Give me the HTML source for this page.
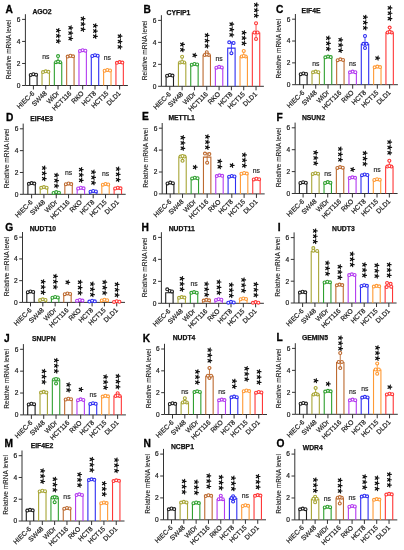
<!DOCTYPE html>
<html><head><meta charset="utf-8"><style>
html,body{margin:0;padding:0;background:#fff;}
svg{display:block;will-change:transform;}
text{font-family:'Liberation Sans', sans-serif;}
.lt{font-size:10.2px;font-weight:bold;fill:#000;stroke:#000;stroke-width:0.3px;}
.tt{font-size:6.8px;font-weight:bold;fill:#111;stroke:#111;stroke-width:0.25px;}
.tl{font-size:6.6px;fill:#1a1a1a;stroke:#1a1a1a;stroke-width:0.2px;text-anchor:end;}
.yl{font-size:6.55px;fill:#222;stroke:#222;stroke-width:0.12px;text-anchor:middle;}
.xl{font-size:6.7px;fill:#1a1a1a;stroke:#1a1a1a;stroke-width:0.2px;text-anchor:end;}
.ns{font-size:6.8px;fill:#222;stroke:#222;stroke-width:0.15px;text-anchor:middle;}
.ax{fill:none;stroke:#333;stroke-width:1;}
.br{fill:none;stroke-width:1.1;}
.eb{fill:none;stroke-width:0.9;}
.dt{fill:#fff;stroke-width:1.1;}
.st{fill:none;stroke:#111;stroke-width:1.2;stroke-linecap:round;}
</style></head><body>
<svg width="404" height="550" viewBox="0 0 404 550">
<rect width="404" height="550" fill="#fff"/>
<text x="5.6" y="12.7" class="lt">A</text>
<text x="32.4" y="13.6" class="tt">AGO2</text>
<path d="M25.4,14.2V85.5H127.9" class="ax"/>
<text x="20.5" y="87.8" class="tl">0</text>
<text x="20.5" y="65.77" class="tl">2</text>
<text x="20.5" y="43.73" class="tl">4</text>
<text x="20.5" y="21.7" class="tl">6</text>
<path d="M22.1,85.5H25.4M22.1,63.47H25.4M22.1,41.43H25.4M22.1,19.4H25.4M33.4,85.5V89.5M45.72,85.5V89.5M58.04,85.5V89.5M70.36,85.5V89.5M82.68,85.5V89.5M95,85.5V89.5M107.32,85.5V89.5M119.64,85.5V89.5" class="ax"/>
<text transform="translate(11.4,49.5) rotate(-90)" class="yl">Relative mRNA level</text>
<text transform="translate(35,93.8) rotate(-45)" class="xl">HIEC-6</text>
<text transform="translate(47.32,93.8) rotate(-45)" class="xl">SW48</text>
<text transform="translate(59.64,93.8) rotate(-45)" class="xl">WiDr</text>
<text transform="translate(71.96,93.8) rotate(-45)" class="xl">HCT116</text>
<text transform="translate(84.28,93.8) rotate(-45)" class="xl">RKO</text>
<text transform="translate(96.6,93.8) rotate(-45)" class="xl">HCT8</text>
<text transform="translate(108.92,93.8) rotate(-45)" class="xl">HCT15</text>
<text transform="translate(121.24,93.8) rotate(-45)" class="xl">DLD1</text>
<path d="M29.7,85.5V75.25H37.1V85.5" stroke="#1e1e1e" class="br"/>
<circle cx="30.7" cy="74.92" r="1.45" stroke="#1e1e1e" class="dt"/>
<circle cx="33.4" cy="74.15" r="1.45" stroke="#1e1e1e" class="dt"/>
<circle cx="36.1" cy="74.7" r="1.45" stroke="#1e1e1e" class="dt"/>
<path d="M42.02,85.5V72.39H49.42V85.5" stroke="#a8a636" class="br"/>
<circle cx="43.02" cy="72.06" r="1.45" stroke="#a8a636" class="dt"/>
<circle cx="45.72" cy="71.29" r="1.45" stroke="#a8a636" class="dt"/>
<circle cx="48.42" cy="71.84" r="1.45" stroke="#a8a636" class="dt"/>
<text x="45.72" y="58.6" class="ns">ns</text>
<path d="M54.34,85.5V62.48H61.74V85.5" stroke="#2fa02f" class="br"/>
<path d="M58.04,62.48V56.09M56.24,56.09H59.84" stroke="#2fa02f" class="eb"/>
<circle cx="58.04" cy="56.09" r="1.45" stroke="#2fa02f" class="dt"/>
<circle cx="56.04" cy="62.14" r="1.45" stroke="#2fa02f" class="dt"/>
<circle cx="60.04" cy="62.14" r="1.45" stroke="#2fa02f" class="dt"/>
<circle cx="58.04" cy="61.59" r="1.45" stroke="#2fa02f" class="dt"/>
<path transform="translate(58.24,41.2)" d="M0,0L2.05,-0M0,0L0.63,-1.95M0,0L-1.66,-1.2M0,0L-1.66,1.2M0,0L0.63,1.95" class="st"/>
<path transform="translate(58.24,35.85)" d="M0,0L2.05,-0M0,0L0.63,-1.95M0,0L-1.66,-1.2M0,0L-1.66,1.2M0,0L0.63,1.95" class="st"/>
<path transform="translate(58.24,30.5)" d="M0,0L2.05,-0M0,0L0.63,-1.95M0,0L-1.66,-1.2M0,0L-1.66,1.2M0,0L0.63,1.95" class="st"/>
<path d="M66.66,85.5V56.86H74.06V85.5" stroke="#bd6a30" class="br"/>
<circle cx="67.66" cy="56.53" r="1.45" stroke="#bd6a30" class="dt"/>
<circle cx="70.36" cy="55.75" r="1.45" stroke="#bd6a30" class="dt"/>
<circle cx="73.06" cy="56.31" r="1.45" stroke="#bd6a30" class="dt"/>
<path transform="translate(70.56,38.5)" d="M0,0L2.05,-0M0,0L0.63,-1.95M0,0L-1.66,-1.2M0,0L-1.66,1.2M0,0L0.63,1.95" class="st"/>
<path transform="translate(70.56,33.15)" d="M0,0L2.05,-0M0,0L0.63,-1.95M0,0L-1.66,-1.2M0,0L-1.66,1.2M0,0L0.63,1.95" class="st"/>
<path transform="translate(70.56,27.8)" d="M0,0L2.05,-0M0,0L0.63,-1.95M0,0L-1.66,-1.2M0,0L-1.66,1.2M0,0L0.63,1.95" class="st"/>
<path d="M78.98,85.5V51.24H86.38V85.5" stroke="#b43cf0" class="br"/>
<circle cx="79.98" cy="50.91" r="1.45" stroke="#b43cf0" class="dt"/>
<circle cx="82.68" cy="50.14" r="1.45" stroke="#b43cf0" class="dt"/>
<circle cx="85.38" cy="50.69" r="1.45" stroke="#b43cf0" class="dt"/>
<path transform="translate(82.88,29.4)" d="M0,0L2.05,-0M0,0L0.63,-1.95M0,0L-1.66,-1.2M0,0L-1.66,1.2M0,0L0.63,1.95" class="st"/>
<path transform="translate(82.88,24.05)" d="M0,0L2.05,-0M0,0L0.63,-1.95M0,0L-1.66,-1.2M0,0L-1.66,1.2M0,0L0.63,1.95" class="st"/>
<path transform="translate(82.88,18.7)" d="M0,0L2.05,-0M0,0L0.63,-1.95M0,0L-1.66,-1.2M0,0L-1.66,1.2M0,0L0.63,1.95" class="st"/>
<path d="M91.3,85.5V56.31H98.7V85.5" stroke="#2f2ff2" class="br"/>
<circle cx="92.3" cy="55.98" r="1.45" stroke="#2f2ff2" class="dt"/>
<circle cx="95" cy="55.2" r="1.45" stroke="#2f2ff2" class="dt"/>
<circle cx="97.7" cy="55.75" r="1.45" stroke="#2f2ff2" class="dt"/>
<path transform="translate(95.2,36.4)" d="M0,0L2.05,-0M0,0L0.63,-1.95M0,0L-1.66,-1.2M0,0L-1.66,1.2M0,0L0.63,1.95" class="st"/>
<path transform="translate(95.2,31.05)" d="M0,0L2.05,-0M0,0L0.63,-1.95M0,0L-1.66,-1.2M0,0L-1.66,1.2M0,0L0.63,1.95" class="st"/>
<path transform="translate(95.2,25.7)" d="M0,0L2.05,-0M0,0L0.63,-1.95M0,0L-1.66,-1.2M0,0L-1.66,1.2M0,0L0.63,1.95" class="st"/>
<path d="M103.62,85.5V71.07H111.02V85.5" stroke="#ff9a35" class="br"/>
<circle cx="104.62" cy="70.74" r="1.45" stroke="#ff9a35" class="dt"/>
<circle cx="107.32" cy="69.97" r="1.45" stroke="#ff9a35" class="dt"/>
<circle cx="110.02" cy="70.52" r="1.45" stroke="#ff9a35" class="dt"/>
<text x="107.32" y="59.5" class="ns">ns</text>
<path d="M115.94,85.5V63.14H123.34V85.5" stroke="#ff3838" class="br"/>
<circle cx="116.94" cy="62.81" r="1.45" stroke="#ff3838" class="dt"/>
<circle cx="119.64" cy="62.03" r="1.45" stroke="#ff3838" class="dt"/>
<circle cx="122.34" cy="62.59" r="1.45" stroke="#ff3838" class="dt"/>
<path transform="translate(119.84,46.9)" d="M0,0L2.05,-0M0,0L0.63,-1.95M0,0L-1.66,-1.2M0,0L-1.66,1.2M0,0L0.63,1.95" class="st"/>
<path transform="translate(119.84,41.55)" d="M0,0L2.05,-0M0,0L0.63,-1.95M0,0L-1.66,-1.2M0,0L-1.66,1.2M0,0L0.63,1.95" class="st"/>
<path transform="translate(119.84,36.2)" d="M0,0L2.05,-0M0,0L0.63,-1.95M0,0L-1.66,-1.2M0,0L-1.66,1.2M0,0L0.63,1.95" class="st"/>
<text x="143.6" y="13" class="lt">B</text>
<text x="166.6" y="15.1" class="tt">CYFIP1</text>
<path d="M161.4,15.2V86.3H263.9" class="ax"/>
<text x="156.5" y="88.6" class="tl">0</text>
<text x="156.5" y="66.63" class="tl">2</text>
<text x="156.5" y="44.67" class="tl">4</text>
<text x="156.5" y="22.7" class="tl">6</text>
<path d="M158.1,86.3H161.4M158.1,64.33H161.4M158.1,42.37H161.4M158.1,20.4H161.4M169.8,86.3V90.3M182.12,86.3V90.3M194.44,86.3V90.3M206.76,86.3V90.3M219.08,86.3V90.3M231.4,86.3V90.3M243.72,86.3V90.3M256.04,86.3V90.3" class="ax"/>
<text transform="translate(147.4,50.3) rotate(-90)" class="yl">Relative mRNA level</text>
<text transform="translate(171.4,94.6) rotate(-45)" class="xl">HIEC-6</text>
<text transform="translate(183.72,94.6) rotate(-45)" class="xl">SW48</text>
<text transform="translate(196.04,94.6) rotate(-45)" class="xl">WiDr</text>
<text transform="translate(208.36,94.6) rotate(-45)" class="xl">HCT116</text>
<text transform="translate(220.68,94.6) rotate(-45)" class="xl">RKO</text>
<text transform="translate(233,94.6) rotate(-45)" class="xl">HCT8</text>
<text transform="translate(245.32,94.6) rotate(-45)" class="xl">HCT15</text>
<text transform="translate(257.64,94.6) rotate(-45)" class="xl">DLD1</text>
<path d="M166.1,86.3V76.09H173.5V86.3" stroke="#1e1e1e" class="br"/>
<circle cx="167.1" cy="75.76" r="1.45" stroke="#1e1e1e" class="dt"/>
<circle cx="169.8" cy="74.99" r="1.45" stroke="#1e1e1e" class="dt"/>
<circle cx="172.5" cy="75.54" r="1.45" stroke="#1e1e1e" class="dt"/>
<path d="M178.42,86.3V62.8H185.82V86.3" stroke="#a8a636" class="br"/>
<path d="M182.12,62.8V56.64M180.32,56.64H183.92" stroke="#a8a636" class="eb"/>
<circle cx="182.12" cy="56.64" r="1.45" stroke="#a8a636" class="dt"/>
<circle cx="180.12" cy="62.47" r="1.45" stroke="#a8a636" class="dt"/>
<circle cx="184.12" cy="62.47" r="1.45" stroke="#a8a636" class="dt"/>
<circle cx="182.12" cy="61.92" r="1.45" stroke="#a8a636" class="dt"/>
<path transform="translate(182.32,49.8)" d="M0,0L2.05,-0M0,0L0.63,-1.95M0,0L-1.66,-1.2M0,0L-1.66,1.2M0,0L0.63,1.95" class="st"/>
<path transform="translate(182.32,44.45)" d="M0,0L2.05,-0M0,0L0.63,-1.95M0,0L-1.66,-1.2M0,0L-1.66,1.2M0,0L0.63,1.95" class="st"/>
<path d="M190.74,86.3V64.99H198.14V86.3" stroke="#2fa02f" class="br"/>
<circle cx="191.74" cy="64.66" r="1.45" stroke="#2fa02f" class="dt"/>
<circle cx="194.44" cy="63.89" r="1.45" stroke="#2fa02f" class="dt"/>
<circle cx="197.14" cy="64.44" r="1.45" stroke="#2fa02f" class="dt"/>
<path transform="translate(194.64,55.3)" d="M0,0L2.05,-0M0,0L0.63,-1.95M0,0L-1.66,-1.2M0,0L-1.66,1.2M0,0L0.63,1.95" class="st"/>
<path d="M203.06,86.3V55.33H210.46V86.3" stroke="#bd6a30" class="br"/>
<path d="M206.76,55.33V52.25M204.96,52.25H208.56" stroke="#bd6a30" class="eb"/>
<circle cx="206.76" cy="52.25" r="1.45" stroke="#bd6a30" class="dt"/>
<circle cx="204.76" cy="55" r="1.45" stroke="#bd6a30" class="dt"/>
<circle cx="208.76" cy="55" r="1.45" stroke="#bd6a30" class="dt"/>
<circle cx="206.76" cy="54.45" r="1.45" stroke="#bd6a30" class="dt"/>
<path transform="translate(206.96,46)" d="M0,0L2.05,-0M0,0L0.63,-1.95M0,0L-1.66,-1.2M0,0L-1.66,1.2M0,0L0.63,1.95" class="st"/>
<path transform="translate(206.96,40.65)" d="M0,0L2.05,-0M0,0L0.63,-1.95M0,0L-1.66,-1.2M0,0L-1.66,1.2M0,0L0.63,1.95" class="st"/>
<path transform="translate(206.96,35.3)" d="M0,0L2.05,-0M0,0L0.63,-1.95M0,0L-1.66,-1.2M0,0L-1.66,1.2M0,0L0.63,1.95" class="st"/>
<path d="M215.38,86.3V67.96H222.78V86.3" stroke="#b43cf0" class="br"/>
<circle cx="216.38" cy="67.63" r="1.45" stroke="#b43cf0" class="dt"/>
<circle cx="219.08" cy="66.86" r="1.45" stroke="#b43cf0" class="dt"/>
<circle cx="221.78" cy="67.41" r="1.45" stroke="#b43cf0" class="dt"/>
<text x="219.08" y="60.5" class="ns">ns</text>
<path d="M227.7,86.3V48.08H235.1V86.3" stroke="#2f2ff2" class="br"/>
<path d="M231.4,53.13V42.15M229.6,42.15H233.2M229.6,53.13H233.2" stroke="#2f2ff2" class="eb"/>
<circle cx="229.2" cy="42.37" r="1.45" stroke="#2f2ff2" class="dt"/>
<circle cx="233.6" cy="42.92" r="1.45" stroke="#2f2ff2" class="dt"/>
<circle cx="231.4" cy="53.13" r="1.45" stroke="#2f2ff2" class="dt"/>
<path transform="translate(231.6,34.9)" d="M0,0L2.05,-0M0,0L0.63,-1.95M0,0L-1.66,-1.2M0,0L-1.66,1.2M0,0L0.63,1.95" class="st"/>
<path transform="translate(231.6,29.55)" d="M0,0L2.05,-0M0,0L0.63,-1.95M0,0L-1.66,-1.2M0,0L-1.66,1.2M0,0L0.63,1.95" class="st"/>
<path transform="translate(231.6,24.2)" d="M0,0L2.05,-0M0,0L0.63,-1.95M0,0L-1.66,-1.2M0,0L-1.66,1.2M0,0L0.63,1.95" class="st"/>
<path d="M240.02,86.3V56.75H247.42V86.3" stroke="#ff9a35" class="br"/>
<path d="M243.72,56.75V50.93M241.92,50.93H245.52" stroke="#ff9a35" class="eb"/>
<circle cx="243.72" cy="50.93" r="1.45" stroke="#ff9a35" class="dt"/>
<circle cx="241.72" cy="56.43" r="1.45" stroke="#ff9a35" class="dt"/>
<circle cx="245.72" cy="56.43" r="1.45" stroke="#ff9a35" class="dt"/>
<circle cx="243.72" cy="55.88" r="1.45" stroke="#ff9a35" class="dt"/>
<path transform="translate(243.92,43.4)" d="M0,0L2.05,-0M0,0L0.63,-1.95M0,0L-1.66,-1.2M0,0L-1.66,1.2M0,0L0.63,1.95" class="st"/>
<path transform="translate(243.92,38.05)" d="M0,0L2.05,-0M0,0L0.63,-1.95M0,0L-1.66,-1.2M0,0L-1.66,1.2M0,0L0.63,1.95" class="st"/>
<path transform="translate(243.92,32.7)" d="M0,0L2.05,-0M0,0L0.63,-1.95M0,0L-1.66,-1.2M0,0L-1.66,1.2M0,0L0.63,1.95" class="st"/>
<path d="M252.34,86.3V33.03H259.74V86.3" stroke="#ff3838" class="br"/>
<path d="M256.04,38.96V23.26M254.24,23.26H257.84M254.24,38.96H257.84" stroke="#ff3838" class="eb"/>
<circle cx="256.04" cy="23.26" r="1.45" stroke="#ff3838" class="dt"/>
<circle cx="256.04" cy="38.96" r="1.45" stroke="#ff3838" class="dt"/>
<circle cx="254.44" cy="32.48" r="1.45" stroke="#ff3838" class="dt"/>
<circle cx="257.64" cy="32.48" r="1.45" stroke="#ff3838" class="dt"/>
<path transform="translate(256.24,15.6)" d="M0,0L2.05,-0M0,0L0.63,-1.95M0,0L-1.66,-1.2M0,0L-1.66,1.2M0,0L0.63,1.95" class="st"/>
<path transform="translate(256.24,10.25)" d="M0,0L2.05,-0M0,0L0.63,-1.95M0,0L-1.66,-1.2M0,0L-1.66,1.2M0,0L0.63,1.95" class="st"/>
<path transform="translate(256.24,4.9)" d="M0,0L2.05,-0M0,0L0.63,-1.95M0,0L-1.66,-1.2M0,0L-1.66,1.2M0,0L0.63,1.95" class="st"/>
<text x="276.1" y="12.7" class="lt">C</text>
<text x="301.6" y="13" class="tt">EIF4E</text>
<path d="M295.4,14V84.7H397.9" class="ax"/>
<text x="290.5" y="87" class="tl">0</text>
<text x="290.5" y="65.17" class="tl">2</text>
<text x="290.5" y="43.33" class="tl">4</text>
<text x="290.5" y="21.5" class="tl">6</text>
<path d="M292.1,84.7H295.4M292.1,62.87H295.4M292.1,41.03H295.4M292.1,19.2H295.4M303.4,84.7V88.7M315.72,84.7V88.7M328.04,84.7V88.7M340.36,84.7V88.7M352.68,84.7V88.7M365,84.7V88.7M377.32,84.7V88.7M389.64,84.7V88.7" class="ax"/>
<text transform="translate(281.4,48.7) rotate(-90)" class="yl">Relative mRNA level</text>
<text transform="translate(305,93) rotate(-45)" class="xl">HIEC-6</text>
<text transform="translate(317.32,93) rotate(-45)" class="xl">SW48</text>
<text transform="translate(329.64,93) rotate(-45)" class="xl">WiDr</text>
<text transform="translate(341.96,93) rotate(-45)" class="xl">HCT116</text>
<text transform="translate(354.28,93) rotate(-45)" class="xl">RKO</text>
<text transform="translate(366.6,93) rotate(-45)" class="xl">HCT8</text>
<text transform="translate(378.92,93) rotate(-45)" class="xl">HCT15</text>
<text transform="translate(391.24,93) rotate(-45)" class="xl">DLD1</text>
<path d="M299.7,84.7V74.55H307.1V84.7" stroke="#1e1e1e" class="br"/>
<circle cx="300.7" cy="74.22" r="1.45" stroke="#1e1e1e" class="dt"/>
<circle cx="303.4" cy="73.46" r="1.45" stroke="#1e1e1e" class="dt"/>
<circle cx="306.1" cy="74" r="1.45" stroke="#1e1e1e" class="dt"/>
<path d="M312.02,84.7V72.69H319.42V84.7" stroke="#a8a636" class="br"/>
<circle cx="313.02" cy="72.36" r="1.45" stroke="#a8a636" class="dt"/>
<circle cx="315.72" cy="71.6" r="1.45" stroke="#a8a636" class="dt"/>
<circle cx="318.42" cy="72.15" r="1.45" stroke="#a8a636" class="dt"/>
<text x="315.72" y="65.8" class="ns">ns</text>
<path d="M324.34,84.7V57.63H331.74V84.7" stroke="#2fa02f" class="br"/>
<circle cx="325.34" cy="57.3" r="1.45" stroke="#2fa02f" class="dt"/>
<circle cx="328.04" cy="56.54" r="1.45" stroke="#2fa02f" class="dt"/>
<circle cx="330.74" cy="57.08" r="1.45" stroke="#2fa02f" class="dt"/>
<path transform="translate(328.24,48.8)" d="M0,0L2.05,-0M0,0L0.63,-1.95M0,0L-1.66,-1.2M0,0L-1.66,1.2M0,0L0.63,1.95" class="st"/>
<path transform="translate(328.24,43.45)" d="M0,0L2.05,-0M0,0L0.63,-1.95M0,0L-1.66,-1.2M0,0L-1.66,1.2M0,0L0.63,1.95" class="st"/>
<path transform="translate(328.24,38.1)" d="M0,0L2.05,-0M0,0L0.63,-1.95M0,0L-1.66,-1.2M0,0L-1.66,1.2M0,0L0.63,1.95" class="st"/>
<path d="M336.66,84.7V60.47H344.06V84.7" stroke="#bd6a30" class="br"/>
<circle cx="337.66" cy="60.14" r="1.45" stroke="#bd6a30" class="dt"/>
<circle cx="340.36" cy="59.37" r="1.45" stroke="#bd6a30" class="dt"/>
<circle cx="343.06" cy="59.92" r="1.45" stroke="#bd6a30" class="dt"/>
<path transform="translate(340.56,50.5)" d="M0,0L2.05,-0M0,0L0.63,-1.95M0,0L-1.66,-1.2M0,0L-1.66,1.2M0,0L0.63,1.95" class="st"/>
<path transform="translate(340.56,45.15)" d="M0,0L2.05,-0M0,0L0.63,-1.95M0,0L-1.66,-1.2M0,0L-1.66,1.2M0,0L0.63,1.95" class="st"/>
<path transform="translate(340.56,39.8)" d="M0,0L2.05,-0M0,0L0.63,-1.95M0,0L-1.66,-1.2M0,0L-1.66,1.2M0,0L0.63,1.95" class="st"/>
<path d="M348.98,84.7V72.69H356.38V84.7" stroke="#b43cf0" class="br"/>
<circle cx="349.98" cy="72.36" r="1.45" stroke="#b43cf0" class="dt"/>
<circle cx="352.68" cy="71.6" r="1.45" stroke="#b43cf0" class="dt"/>
<circle cx="355.38" cy="72.15" r="1.45" stroke="#b43cf0" class="dt"/>
<text x="352.68" y="65.8" class="ns">ns</text>
<path d="M361.3,84.7V44.42H368.7V84.7" stroke="#2f2ff2" class="br"/>
<path d="M365,48.02V36.01M363.2,36.01H366.8M363.2,48.02H366.8" stroke="#2f2ff2" class="eb"/>
<circle cx="365" cy="36.01" r="1.45" stroke="#2f2ff2" class="dt"/>
<circle cx="365" cy="48.02" r="1.45" stroke="#2f2ff2" class="dt"/>
<circle cx="363.4" cy="43.87" r="1.45" stroke="#2f2ff2" class="dt"/>
<circle cx="366.6" cy="43.87" r="1.45" stroke="#2f2ff2" class="dt"/>
<path transform="translate(365.2,27.9)" d="M0,0L2.05,-0M0,0L0.63,-1.95M0,0L-1.66,-1.2M0,0L-1.66,1.2M0,0L0.63,1.95" class="st"/>
<path transform="translate(365.2,22.55)" d="M0,0L2.05,-0M0,0L0.63,-1.95M0,0L-1.66,-1.2M0,0L-1.66,1.2M0,0L0.63,1.95" class="st"/>
<path transform="translate(365.2,17.2)" d="M0,0L2.05,-0M0,0L0.63,-1.95M0,0L-1.66,-1.2M0,0L-1.66,1.2M0,0L0.63,1.95" class="st"/>
<path d="M373.62,84.7V67.67H381.02V84.7" stroke="#ff9a35" class="br"/>
<circle cx="374.62" cy="67.34" r="1.45" stroke="#ff9a35" class="dt"/>
<circle cx="377.32" cy="66.58" r="1.45" stroke="#ff9a35" class="dt"/>
<circle cx="380.02" cy="67.12" r="1.45" stroke="#ff9a35" class="dt"/>
<path transform="translate(377.52,58.1)" d="M0,0L2.05,-0M0,0L0.63,-1.95M0,0L-1.66,-1.2M0,0L-1.66,1.2M0,0L0.63,1.95" class="st"/>
<path d="M385.94,84.7V32.74H393.34V84.7" stroke="#ff3838" class="br"/>
<path d="M389.64,32.74V27.61M387.84,27.61H391.44" stroke="#ff3838" class="eb"/>
<circle cx="389.64" cy="27.61" r="1.45" stroke="#ff3838" class="dt"/>
<circle cx="387.64" cy="32.41" r="1.45" stroke="#ff3838" class="dt"/>
<circle cx="391.64" cy="32.41" r="1.45" stroke="#ff3838" class="dt"/>
<circle cx="389.64" cy="31.86" r="1.45" stroke="#ff3838" class="dt"/>
<path transform="translate(389.84,18.6)" d="M0,0L2.05,-0M0,0L0.63,-1.95M0,0L-1.66,-1.2M0,0L-1.66,1.2M0,0L0.63,1.95" class="st"/>
<path transform="translate(389.84,13.25)" d="M0,0L2.05,-0M0,0L0.63,-1.95M0,0L-1.66,-1.2M0,0L-1.66,1.2M0,0L0.63,1.95" class="st"/>
<path transform="translate(389.84,7.9)" d="M0,0L2.05,-0M0,0L0.63,-1.95M0,0L-1.66,-1.2M0,0L-1.66,1.2M0,0L0.63,1.95" class="st"/>
<text x="5.9" y="120.7" class="lt">D</text>
<text x="30.3" y="120.7" class="tt">EIF4E3</text>
<path d="M23.2,123.6V194.3H125.7" class="ax"/>
<text x="18.3" y="196.6" class="tl">0</text>
<text x="18.3" y="174.77" class="tl">2</text>
<text x="18.3" y="152.93" class="tl">4</text>
<text x="18.3" y="131.1" class="tl">6</text>
<path d="M19.9,194.3H23.2M19.9,172.47H23.2M19.9,150.63H23.2M19.9,128.8H23.2M31.6,194.3V198.3M43.92,194.3V198.3M56.24,194.3V198.3M68.56,194.3V198.3M80.88,194.3V198.3M93.2,194.3V198.3M105.52,194.3V198.3M117.84,194.3V198.3" class="ax"/>
<text transform="translate(9.2,158.3) rotate(-90)" class="yl">Relative mRNA level</text>
<text transform="translate(33.2,202.6) rotate(-45)" class="xl">HIEC-6</text>
<text transform="translate(45.52,202.6) rotate(-45)" class="xl">SW48</text>
<text transform="translate(57.84,202.6) rotate(-45)" class="xl">WiDr</text>
<text transform="translate(70.16,202.6) rotate(-45)" class="xl">HCT116</text>
<text transform="translate(82.48,202.6) rotate(-45)" class="xl">RKO</text>
<text transform="translate(94.8,202.6) rotate(-45)" class="xl">HCT8</text>
<text transform="translate(107.12,202.6) rotate(-45)" class="xl">HCT15</text>
<text transform="translate(119.44,202.6) rotate(-45)" class="xl">DLD1</text>
<path d="M27.9,194.3V184.15H35.3V194.3" stroke="#1e1e1e" class="br"/>
<circle cx="28.9" cy="183.82" r="1.45" stroke="#1e1e1e" class="dt"/>
<circle cx="31.6" cy="183.06" r="1.45" stroke="#1e1e1e" class="dt"/>
<circle cx="34.3" cy="183.6" r="1.45" stroke="#1e1e1e" class="dt"/>
<path d="M40.22,194.3V188.19H47.62V194.3" stroke="#a8a636" class="br"/>
<circle cx="41.22" cy="187.86" r="1.45" stroke="#a8a636" class="dt"/>
<circle cx="43.92" cy="187.09" r="1.45" stroke="#a8a636" class="dt"/>
<circle cx="46.62" cy="187.64" r="1.45" stroke="#a8a636" class="dt"/>
<path transform="translate(44.12,178.7)" d="M0,0L2.05,-0M0,0L0.63,-1.95M0,0L-1.66,-1.2M0,0L-1.66,1.2M0,0L0.63,1.95" class="st"/>
<path transform="translate(44.12,173.35)" d="M0,0L2.05,-0M0,0L0.63,-1.95M0,0L-1.66,-1.2M0,0L-1.66,1.2M0,0L0.63,1.95" class="st"/>
<path transform="translate(44.12,168)" d="M0,0L2.05,-0M0,0L0.63,-1.95M0,0L-1.66,-1.2M0,0L-1.66,1.2M0,0L0.63,1.95" class="st"/>
<path d="M52.54,194.3V193.21H59.94V194.3" stroke="#2fa02f" class="br"/>
<circle cx="53.54" cy="192.88" r="1.45" stroke="#2fa02f" class="dt"/>
<circle cx="56.24" cy="192.12" r="1.45" stroke="#2fa02f" class="dt"/>
<circle cx="58.94" cy="192.66" r="1.45" stroke="#2fa02f" class="dt"/>
<path transform="translate(56.44,185.9)" d="M0,0L2.05,-0M0,0L0.63,-1.95M0,0L-1.66,-1.2M0,0L-1.66,1.2M0,0L0.63,1.95" class="st"/>
<path transform="translate(56.44,180.55)" d="M0,0L2.05,-0M0,0L0.63,-1.95M0,0L-1.66,-1.2M0,0L-1.66,1.2M0,0L0.63,1.95" class="st"/>
<path transform="translate(56.44,175.2)" d="M0,0L2.05,-0M0,0L0.63,-1.95M0,0L-1.66,-1.2M0,0L-1.66,1.2M0,0L0.63,1.95" class="st"/>
<path d="M64.86,194.3V184.58H72.26V194.3" stroke="#bd6a30" class="br"/>
<circle cx="65.86" cy="184.26" r="1.45" stroke="#bd6a30" class="dt"/>
<circle cx="68.56" cy="183.49" r="1.45" stroke="#bd6a30" class="dt"/>
<circle cx="71.26" cy="184.04" r="1.45" stroke="#bd6a30" class="dt"/>
<text x="68.56" y="175.4" class="ns">ns</text>
<path d="M77.18,194.3V188.84H84.58V194.3" stroke="#b43cf0" class="br"/>
<circle cx="78.18" cy="188.51" r="1.45" stroke="#b43cf0" class="dt"/>
<circle cx="80.88" cy="187.75" r="1.45" stroke="#b43cf0" class="dt"/>
<circle cx="83.58" cy="188.3" r="1.45" stroke="#b43cf0" class="dt"/>
<path transform="translate(81.08,180.3)" d="M0,0L2.05,-0M0,0L0.63,-1.95M0,0L-1.66,-1.2M0,0L-1.66,1.2M0,0L0.63,1.95" class="st"/>
<path transform="translate(81.08,174.95)" d="M0,0L2.05,-0M0,0L0.63,-1.95M0,0L-1.66,-1.2M0,0L-1.66,1.2M0,0L0.63,1.95" class="st"/>
<path transform="translate(81.08,169.6)" d="M0,0L2.05,-0M0,0L0.63,-1.95M0,0L-1.66,-1.2M0,0L-1.66,1.2M0,0L0.63,1.95" class="st"/>
<path d="M89.5,194.3V192.01H96.9V194.3" stroke="#2f2ff2" class="br"/>
<circle cx="90.5" cy="191.68" r="1.45" stroke="#2f2ff2" class="dt"/>
<circle cx="93.2" cy="190.92" r="1.45" stroke="#2f2ff2" class="dt"/>
<circle cx="95.9" cy="191.46" r="1.45" stroke="#2f2ff2" class="dt"/>
<path transform="translate(93.4,182.8)" d="M0,0L2.05,-0M0,0L0.63,-1.95M0,0L-1.66,-1.2M0,0L-1.66,1.2M0,0L0.63,1.95" class="st"/>
<path transform="translate(93.4,177.45)" d="M0,0L2.05,-0M0,0L0.63,-1.95M0,0L-1.66,-1.2M0,0L-1.66,1.2M0,0L0.63,1.95" class="st"/>
<path transform="translate(93.4,172.1)" d="M0,0L2.05,-0M0,0L0.63,-1.95M0,0L-1.66,-1.2M0,0L-1.66,1.2M0,0L0.63,1.95" class="st"/>
<path d="M101.82,194.3V185.02H109.22V194.3" stroke="#ff9a35" class="br"/>
<circle cx="102.82" cy="184.69" r="1.45" stroke="#ff9a35" class="dt"/>
<circle cx="105.52" cy="183.93" r="1.45" stroke="#ff9a35" class="dt"/>
<circle cx="108.22" cy="184.48" r="1.45" stroke="#ff9a35" class="dt"/>
<text x="105.52" y="176.2" class="ns">ns</text>
<path d="M114.14,194.3V188.84H121.54V194.3" stroke="#ff3838" class="br"/>
<circle cx="115.14" cy="188.51" r="1.45" stroke="#ff3838" class="dt"/>
<circle cx="117.84" cy="187.75" r="1.45" stroke="#ff3838" class="dt"/>
<circle cx="120.54" cy="188.3" r="1.45" stroke="#ff3838" class="dt"/>
<path transform="translate(118.04,179.7)" d="M0,0L2.05,-0M0,0L0.63,-1.95M0,0L-1.66,-1.2M0,0L-1.66,1.2M0,0L0.63,1.95" class="st"/>
<path transform="translate(118.04,174.35)" d="M0,0L2.05,-0M0,0L0.63,-1.95M0,0L-1.66,-1.2M0,0L-1.66,1.2M0,0L0.63,1.95" class="st"/>
<path transform="translate(118.04,169)" d="M0,0L2.05,-0M0,0L0.63,-1.95M0,0L-1.66,-1.2M0,0L-1.66,1.2M0,0L0.63,1.95" class="st"/>
<text x="141.9" y="120.4" class="lt">E</text>
<text x="168.4" y="120.4" class="tt">METTL1</text>
<path d="M162.2,123V193.9H264.7" class="ax"/>
<text x="157.3" y="196.2" class="tl">0</text>
<text x="157.3" y="174.3" class="tl">2</text>
<text x="157.3" y="152.4" class="tl">4</text>
<text x="157.3" y="130.5" class="tl">6</text>
<path d="M158.9,193.9H162.2M158.9,172H162.2M158.9,150.1H162.2M158.9,128.2H162.2M170.2,193.9V197.9M182.52,193.9V197.9M194.84,193.9V197.9M207.16,193.9V197.9M219.48,193.9V197.9M231.8,193.9V197.9M244.12,193.9V197.9M256.44,193.9V197.9" class="ax"/>
<text transform="translate(148.2,157.9) rotate(-90)" class="yl">Relative mRNA level</text>
<text transform="translate(171.8,202.2) rotate(-45)" class="xl">HIEC-6</text>
<text transform="translate(184.12,202.2) rotate(-45)" class="xl">SW48</text>
<text transform="translate(196.44,202.2) rotate(-45)" class="xl">WiDr</text>
<text transform="translate(208.76,202.2) rotate(-45)" class="xl">HCT116</text>
<text transform="translate(221.08,202.2) rotate(-45)" class="xl">RKO</text>
<text transform="translate(233.4,202.2) rotate(-45)" class="xl">HCT8</text>
<text transform="translate(245.72,202.2) rotate(-45)" class="xl">HCT15</text>
<text transform="translate(258.04,202.2) rotate(-45)" class="xl">DLD1</text>
<path d="M166.5,193.9V183.72H173.9V193.9" stroke="#1e1e1e" class="br"/>
<circle cx="167.5" cy="183.39" r="1.45" stroke="#1e1e1e" class="dt"/>
<circle cx="170.2" cy="182.62" r="1.45" stroke="#1e1e1e" class="dt"/>
<circle cx="172.9" cy="183.17" r="1.45" stroke="#1e1e1e" class="dt"/>
<path d="M178.82,193.9V157.11H186.22V193.9" stroke="#a8a636" class="br"/>
<path d="M182.52,160.83V157.11M180.72,160.83H184.32" stroke="#a8a636" class="eb"/>
<circle cx="182.52" cy="160.83" r="1.45" stroke="#a8a636" class="dt"/>
<circle cx="180.52" cy="156.56" r="1.45" stroke="#a8a636" class="dt"/>
<circle cx="184.52" cy="156.56" r="1.45" stroke="#a8a636" class="dt"/>
<circle cx="182.52" cy="156.01" r="1.45" stroke="#a8a636" class="dt"/>
<path transform="translate(182.72,148.3)" d="M0,0L2.05,-0M0,0L0.63,-1.95M0,0L-1.66,-1.2M0,0L-1.66,1.2M0,0L0.63,1.95" class="st"/>
<path transform="translate(182.72,142.95)" d="M0,0L2.05,-0M0,0L0.63,-1.95M0,0L-1.66,-1.2M0,0L-1.66,1.2M0,0L0.63,1.95" class="st"/>
<path transform="translate(182.72,137.6)" d="M0,0L2.05,-0M0,0L0.63,-1.95M0,0L-1.66,-1.2M0,0L-1.66,1.2M0,0L0.63,1.95" class="st"/>
<path d="M191.14,193.9V178.79H198.54V193.9" stroke="#2fa02f" class="br"/>
<circle cx="192.14" cy="178.46" r="1.45" stroke="#2fa02f" class="dt"/>
<circle cx="194.84" cy="177.69" r="1.45" stroke="#2fa02f" class="dt"/>
<circle cx="197.54" cy="178.24" r="1.45" stroke="#2fa02f" class="dt"/>
<path transform="translate(195.04,167.2)" d="M0,0L2.05,-0M0,0L0.63,-1.95M0,0L-1.66,-1.2M0,0L-1.66,1.2M0,0L0.63,1.95" class="st"/>
<path d="M203.46,193.9V157.11H210.86V193.9" stroke="#bd6a30" class="br"/>
<path d="M207.16,162.69V153.17M205.36,153.17H208.96M205.36,162.69H208.96" stroke="#bd6a30" class="eb"/>
<circle cx="204.96" cy="153.6" r="1.45" stroke="#bd6a30" class="dt"/>
<circle cx="209.36" cy="154.04" r="1.45" stroke="#bd6a30" class="dt"/>
<circle cx="207.16" cy="162.69" r="1.45" stroke="#bd6a30" class="dt"/>
<path transform="translate(207.36,147.4)" d="M0,0L2.05,-0M0,0L0.63,-1.95M0,0L-1.66,-1.2M0,0L-1.66,1.2M0,0L0.63,1.95" class="st"/>
<path transform="translate(207.36,142.05)" d="M0,0L2.05,-0M0,0L0.63,-1.95M0,0L-1.66,-1.2M0,0L-1.66,1.2M0,0L0.63,1.95" class="st"/>
<path transform="translate(207.36,136.7)" d="M0,0L2.05,-0M0,0L0.63,-1.95M0,0L-1.66,-1.2M0,0L-1.66,1.2M0,0L0.63,1.95" class="st"/>
<path d="M215.78,193.9V176.38H223.18V193.9" stroke="#b43cf0" class="br"/>
<circle cx="216.78" cy="176.05" r="1.45" stroke="#b43cf0" class="dt"/>
<circle cx="219.48" cy="175.28" r="1.45" stroke="#b43cf0" class="dt"/>
<circle cx="222.18" cy="175.83" r="1.45" stroke="#b43cf0" class="dt"/>
<path transform="translate(219.68,166.7)" d="M0,0L2.05,-0M0,0L0.63,-1.95M0,0L-1.66,-1.2M0,0L-1.66,1.2M0,0L0.63,1.95" class="st"/>
<path transform="translate(219.68,161.35)" d="M0,0L2.05,-0M0,0L0.63,-1.95M0,0L-1.66,-1.2M0,0L-1.66,1.2M0,0L0.63,1.95" class="st"/>
<path d="M228.1,193.9V177.04H235.5V193.9" stroke="#2f2ff2" class="br"/>
<circle cx="229.1" cy="176.71" r="1.45" stroke="#2f2ff2" class="dt"/>
<circle cx="231.8" cy="175.94" r="1.45" stroke="#2f2ff2" class="dt"/>
<circle cx="234.5" cy="176.49" r="1.45" stroke="#2f2ff2" class="dt"/>
<path transform="translate(232,165.4)" d="M0,0L2.05,-0M0,0L0.63,-1.95M0,0L-1.66,-1.2M0,0L-1.66,1.2M0,0L0.63,1.95" class="st"/>
<path d="M240.42,193.9V174.08H247.82V193.9" stroke="#ff9a35" class="br"/>
<circle cx="241.42" cy="173.75" r="1.45" stroke="#ff9a35" class="dt"/>
<circle cx="244.12" cy="172.99" r="1.45" stroke="#ff9a35" class="dt"/>
<circle cx="246.82" cy="173.53" r="1.45" stroke="#ff9a35" class="dt"/>
<path transform="translate(244.32,165.6)" d="M0,0L2.05,-0M0,0L0.63,-1.95M0,0L-1.66,-1.2M0,0L-1.66,1.2M0,0L0.63,1.95" class="st"/>
<path transform="translate(244.32,160.25)" d="M0,0L2.05,-0M0,0L0.63,-1.95M0,0L-1.66,-1.2M0,0L-1.66,1.2M0,0L0.63,1.95" class="st"/>
<path transform="translate(244.32,154.9)" d="M0,0L2.05,-0M0,0L0.63,-1.95M0,0L-1.66,-1.2M0,0L-1.66,1.2M0,0L0.63,1.95" class="st"/>
<path d="M252.74,193.9V179.77H260.14V193.9" stroke="#ff3838" class="br"/>
<circle cx="253.74" cy="179.45" r="1.45" stroke="#ff3838" class="dt"/>
<circle cx="256.44" cy="178.68" r="1.45" stroke="#ff3838" class="dt"/>
<circle cx="259.14" cy="179.23" r="1.45" stroke="#ff3838" class="dt"/>
<text x="256.44" y="172.9" class="ns">ns</text>
<text x="276.5" y="120.7" class="lt">F</text>
<text x="301.9" y="120.4" class="tt">NSUN2</text>
<path d="M295.1,122.6V193.5H397.6" class="ax"/>
<text x="290.2" y="195.8" class="tl">0</text>
<text x="290.2" y="173.9" class="tl">2</text>
<text x="290.2" y="152" class="tl">4</text>
<text x="290.2" y="130.1" class="tl">6</text>
<path d="M291.8,193.5H295.1M291.8,171.6H295.1M291.8,149.7H295.1M291.8,127.8H295.1M303.1,193.5V197.5M315.42,193.5V197.5M327.74,193.5V197.5M340.06,193.5V197.5M352.38,193.5V197.5M364.7,193.5V197.5M377.02,193.5V197.5M389.34,193.5V197.5" class="ax"/>
<text transform="translate(281.1,157.5) rotate(-90)" class="yl">Relative mRNA level</text>
<text transform="translate(304.7,201.8) rotate(-45)" class="xl">HIEC-6</text>
<text transform="translate(317.02,201.8) rotate(-45)" class="xl">SW48</text>
<text transform="translate(329.34,201.8) rotate(-45)" class="xl">WiDr</text>
<text transform="translate(341.66,201.8) rotate(-45)" class="xl">HCT116</text>
<text transform="translate(353.98,201.8) rotate(-45)" class="xl">RKO</text>
<text transform="translate(366.3,201.8) rotate(-45)" class="xl">HCT8</text>
<text transform="translate(378.62,201.8) rotate(-45)" class="xl">HCT15</text>
<text transform="translate(390.94,201.8) rotate(-45)" class="xl">DLD1</text>
<path d="M299.4,193.5V183.32H306.8V193.5" stroke="#1e1e1e" class="br"/>
<circle cx="300.4" cy="182.99" r="1.45" stroke="#1e1e1e" class="dt"/>
<circle cx="303.1" cy="182.22" r="1.45" stroke="#1e1e1e" class="dt"/>
<circle cx="305.8" cy="182.77" r="1.45" stroke="#1e1e1e" class="dt"/>
<path d="M311.72,193.5V174.23H319.12V193.5" stroke="#a8a636" class="br"/>
<circle cx="312.72" cy="173.9" r="1.45" stroke="#a8a636" class="dt"/>
<circle cx="315.42" cy="173.13" r="1.45" stroke="#a8a636" class="dt"/>
<circle cx="318.12" cy="173.68" r="1.45" stroke="#a8a636" class="dt"/>
<path transform="translate(315.62,163.3)" d="M0,0L2.05,-0M0,0L0.63,-1.95M0,0L-1.66,-1.2M0,0L-1.66,1.2M0,0L0.63,1.95" class="st"/>
<path transform="translate(315.62,157.95)" d="M0,0L2.05,-0M0,0L0.63,-1.95M0,0L-1.66,-1.2M0,0L-1.66,1.2M0,0L0.63,1.95" class="st"/>
<path transform="translate(315.62,152.6)" d="M0,0L2.05,-0M0,0L0.63,-1.95M0,0L-1.66,-1.2M0,0L-1.66,1.2M0,0L0.63,1.95" class="st"/>
<path d="M324.04,193.5V183.21H331.44V193.5" stroke="#2fa02f" class="br"/>
<circle cx="325.04" cy="182.88" r="1.45" stroke="#2fa02f" class="dt"/>
<circle cx="327.74" cy="182.11" r="1.45" stroke="#2fa02f" class="dt"/>
<circle cx="330.44" cy="182.66" r="1.45" stroke="#2fa02f" class="dt"/>
<text x="327.74" y="175.6" class="ns">ns</text>
<path d="M336.36,193.5V168.21H343.76V193.5" stroke="#bd6a30" class="br"/>
<circle cx="337.36" cy="167.88" r="1.45" stroke="#bd6a30" class="dt"/>
<circle cx="340.06" cy="167.11" r="1.45" stroke="#bd6a30" class="dt"/>
<circle cx="342.76" cy="167.66" r="1.45" stroke="#bd6a30" class="dt"/>
<path transform="translate(340.26,159.7)" d="M0,0L2.05,-0M0,0L0.63,-1.95M0,0L-1.66,-1.2M0,0L-1.66,1.2M0,0L0.63,1.95" class="st"/>
<path transform="translate(340.26,154.35)" d="M0,0L2.05,-0M0,0L0.63,-1.95M0,0L-1.66,-1.2M0,0L-1.66,1.2M0,0L0.63,1.95" class="st"/>
<path transform="translate(340.26,149)" d="M0,0L2.05,-0M0,0L0.63,-1.95M0,0L-1.66,-1.2M0,0L-1.66,1.2M0,0L0.63,1.95" class="st"/>
<path d="M348.68,193.5V178.39H356.08V193.5" stroke="#b43cf0" class="br"/>
<circle cx="349.68" cy="178.06" r="1.45" stroke="#b43cf0" class="dt"/>
<circle cx="352.38" cy="177.29" r="1.45" stroke="#b43cf0" class="dt"/>
<circle cx="355.08" cy="177.84" r="1.45" stroke="#b43cf0" class="dt"/>
<path transform="translate(352.58,169.5)" d="M0,0L2.05,-0M0,0L0.63,-1.95M0,0L-1.66,-1.2M0,0L-1.66,1.2M0,0L0.63,1.95" class="st"/>
<path d="M361,193.5V175.54H368.4V193.5" stroke="#2f2ff2" class="br"/>
<circle cx="362" cy="175.21" r="1.45" stroke="#2f2ff2" class="dt"/>
<circle cx="364.7" cy="174.45" r="1.45" stroke="#2f2ff2" class="dt"/>
<circle cx="367.4" cy="174.99" r="1.45" stroke="#2f2ff2" class="dt"/>
<path transform="translate(364.9,163.9)" d="M0,0L2.05,-0M0,0L0.63,-1.95M0,0L-1.66,-1.2M0,0L-1.66,1.2M0,0L0.63,1.95" class="st"/>
<path transform="translate(364.9,158.55)" d="M0,0L2.05,-0M0,0L0.63,-1.95M0,0L-1.66,-1.2M0,0L-1.66,1.2M0,0L0.63,1.95" class="st"/>
<path transform="translate(364.9,153.2)" d="M0,0L2.05,-0M0,0L0.63,-1.95M0,0L-1.66,-1.2M0,0L-1.66,1.2M0,0L0.63,1.95" class="st"/>
<path d="M373.32,193.5V180.25H380.72V193.5" stroke="#ff9a35" class="br"/>
<circle cx="374.32" cy="179.92" r="1.45" stroke="#ff9a35" class="dt"/>
<circle cx="377.02" cy="179.16" r="1.45" stroke="#ff9a35" class="dt"/>
<circle cx="379.72" cy="179.7" r="1.45" stroke="#ff9a35" class="dt"/>
<text x="377.02" y="172.4" class="ns">ns</text>
<path d="M385.64,193.5V166.89H393.04V193.5" stroke="#ff3838" class="br"/>
<path d="M389.34,166.89V160.76M387.54,160.76H391.14" stroke="#ff3838" class="eb"/>
<circle cx="389.34" cy="160.76" r="1.45" stroke="#ff3838" class="dt"/>
<circle cx="387.34" cy="166.56" r="1.45" stroke="#ff3838" class="dt"/>
<circle cx="391.34" cy="166.56" r="1.45" stroke="#ff3838" class="dt"/>
<circle cx="389.34" cy="166.02" r="1.45" stroke="#ff3838" class="dt"/>
<path transform="translate(389.54,152.8)" d="M0,0L2.05,-0M0,0L0.63,-1.95M0,0L-1.66,-1.2M0,0L-1.66,1.2M0,0L0.63,1.95" class="st"/>
<path transform="translate(389.54,147.45)" d="M0,0L2.05,-0M0,0L0.63,-1.95M0,0L-1.66,-1.2M0,0L-1.66,1.2M0,0L0.63,1.95" class="st"/>
<path transform="translate(389.54,142.1)" d="M0,0L2.05,-0M0,0L0.63,-1.95M0,0L-1.66,-1.2M0,0L-1.66,1.2M0,0L0.63,1.95" class="st"/>
<text x="5.3" y="231" class="lt">G</text>
<text x="29.7" y="230.7" class="tt">NUDT10</text>
<path d="M22.5,232V302.4H125" class="ax"/>
<text x="17.6" y="304.7" class="tl">0</text>
<text x="17.6" y="282.97" class="tl">2</text>
<text x="17.6" y="261.23" class="tl">4</text>
<text x="17.6" y="239.5" class="tl">6</text>
<path d="M19.2,302.4H22.5M19.2,280.67H22.5M19.2,258.93H22.5M19.2,237.2H22.5M30.5,302.4V306.4M42.82,302.4V306.4M55.14,302.4V306.4M67.46,302.4V306.4M79.78,302.4V306.4M92.1,302.4V306.4M104.42,302.4V306.4M116.74,302.4V306.4" class="ax"/>
<text transform="translate(8.5,266.4) rotate(-90)" class="yl">Relative mRNA level</text>
<text transform="translate(32.1,310.7) rotate(-45)" class="xl">HIEC-6</text>
<text transform="translate(44.42,310.7) rotate(-45)" class="xl">SW48</text>
<text transform="translate(56.74,310.7) rotate(-45)" class="xl">WiDr</text>
<text transform="translate(69.06,310.7) rotate(-45)" class="xl">HCT116</text>
<text transform="translate(81.38,310.7) rotate(-45)" class="xl">RKO</text>
<text transform="translate(93.7,310.7) rotate(-45)" class="xl">HCT8</text>
<text transform="translate(106.02,310.7) rotate(-45)" class="xl">HCT15</text>
<text transform="translate(118.34,310.7) rotate(-45)" class="xl">DLD1</text>
<path d="M26.8,302.4V292.51H34.2V302.4" stroke="#1e1e1e" class="br"/>
<circle cx="27.8" cy="292.19" r="1.45" stroke="#1e1e1e" class="dt"/>
<circle cx="30.5" cy="291.42" r="1.45" stroke="#1e1e1e" class="dt"/>
<circle cx="33.2" cy="291.97" r="1.45" stroke="#1e1e1e" class="dt"/>
<path d="M39.12,302.4V300.44H46.52V302.4" stroke="#a8a636" class="br"/>
<circle cx="40.12" cy="300.12" r="1.45" stroke="#a8a636" class="dt"/>
<circle cx="42.82" cy="299.36" r="1.45" stroke="#a8a636" class="dt"/>
<circle cx="45.52" cy="299.9" r="1.45" stroke="#a8a636" class="dt"/>
<path transform="translate(43.02,292.4)" d="M0,0L2.05,-0M0,0L0.63,-1.95M0,0L-1.66,-1.2M0,0L-1.66,1.2M0,0L0.63,1.95" class="st"/>
<path transform="translate(43.02,287.05)" d="M0,0L2.05,-0M0,0L0.63,-1.95M0,0L-1.66,-1.2M0,0L-1.66,1.2M0,0L0.63,1.95" class="st"/>
<path transform="translate(43.02,281.7)" d="M0,0L2.05,-0M0,0L0.63,-1.95M0,0L-1.66,-1.2M0,0L-1.66,1.2M0,0L0.63,1.95" class="st"/>
<path d="M51.44,302.4V298.05H58.84V302.4" stroke="#2fa02f" class="br"/>
<circle cx="52.44" cy="297.73" r="1.45" stroke="#2fa02f" class="dt"/>
<circle cx="55.14" cy="296.97" r="1.45" stroke="#2fa02f" class="dt"/>
<circle cx="57.84" cy="297.51" r="1.45" stroke="#2fa02f" class="dt"/>
<path transform="translate(55.34,287)" d="M0,0L2.05,-0M0,0L0.63,-1.95M0,0L-1.66,-1.2M0,0L-1.66,1.2M0,0L0.63,1.95" class="st"/>
<path transform="translate(55.34,281.65)" d="M0,0L2.05,-0M0,0L0.63,-1.95M0,0L-1.66,-1.2M0,0L-1.66,1.2M0,0L0.63,1.95" class="st"/>
<path transform="translate(55.34,276.3)" d="M0,0L2.05,-0M0,0L0.63,-1.95M0,0L-1.66,-1.2M0,0L-1.66,1.2M0,0L0.63,1.95" class="st"/>
<path d="M63.76,302.4V294.47H71.16V302.4" stroke="#bd6a30" class="br"/>
<circle cx="64.76" cy="294.14" r="1.45" stroke="#bd6a30" class="dt"/>
<circle cx="67.46" cy="293.38" r="1.45" stroke="#bd6a30" class="dt"/>
<circle cx="70.16" cy="293.92" r="1.45" stroke="#bd6a30" class="dt"/>
<path transform="translate(67.66,282.3)" d="M0,0L2.05,-0M0,0L0.63,-1.95M0,0L-1.66,-1.2M0,0L-1.66,1.2M0,0L0.63,1.95" class="st"/>
<path d="M76.08,302.4V301.1H83.48V302.4" stroke="#b43cf0" class="br"/>
<circle cx="77.08" cy="300.77" r="1.45" stroke="#b43cf0" class="dt"/>
<circle cx="79.78" cy="300.01" r="1.45" stroke="#b43cf0" class="dt"/>
<circle cx="82.48" cy="300.55" r="1.45" stroke="#b43cf0" class="dt"/>
<path transform="translate(79.98,292.9)" d="M0,0L2.05,-0M0,0L0.63,-1.95M0,0L-1.66,-1.2M0,0L-1.66,1.2M0,0L0.63,1.95" class="st"/>
<path transform="translate(79.98,287.55)" d="M0,0L2.05,-0M0,0L0.63,-1.95M0,0L-1.66,-1.2M0,0L-1.66,1.2M0,0L0.63,1.95" class="st"/>
<path transform="translate(79.98,282.2)" d="M0,0L2.05,-0M0,0L0.63,-1.95M0,0L-1.66,-1.2M0,0L-1.66,1.2M0,0L0.63,1.95" class="st"/>
<path d="M88.4,302.4V301.86H95.8V302.4" stroke="#2f2ff2" class="br"/>
<circle cx="89.4" cy="301.53" r="1.45" stroke="#2f2ff2" class="dt"/>
<circle cx="92.1" cy="300.77" r="1.45" stroke="#2f2ff2" class="dt"/>
<circle cx="94.8" cy="301.31" r="1.45" stroke="#2f2ff2" class="dt"/>
<path transform="translate(92.3,294.7)" d="M0,0L2.05,-0M0,0L0.63,-1.95M0,0L-1.66,-1.2M0,0L-1.66,1.2M0,0L0.63,1.95" class="st"/>
<path transform="translate(92.3,289.35)" d="M0,0L2.05,-0M0,0L0.63,-1.95M0,0L-1.66,-1.2M0,0L-1.66,1.2M0,0L0.63,1.95" class="st"/>
<path transform="translate(92.3,284)" d="M0,0L2.05,-0M0,0L0.63,-1.95M0,0L-1.66,-1.2M0,0L-1.66,1.2M0,0L0.63,1.95" class="st"/>
<path d="M100.72,302.4V300.77H108.12V302.4" stroke="#ff9a35" class="br"/>
<circle cx="101.72" cy="300.44" r="1.45" stroke="#ff9a35" class="dt"/>
<circle cx="104.42" cy="299.68" r="1.45" stroke="#ff9a35" class="dt"/>
<circle cx="107.12" cy="300.23" r="1.45" stroke="#ff9a35" class="dt"/>
<path transform="translate(104.62,292.9)" d="M0,0L2.05,-0M0,0L0.63,-1.95M0,0L-1.66,-1.2M0,0L-1.66,1.2M0,0L0.63,1.95" class="st"/>
<path transform="translate(104.62,287.55)" d="M0,0L2.05,-0M0,0L0.63,-1.95M0,0L-1.66,-1.2M0,0L-1.66,1.2M0,0L0.63,1.95" class="st"/>
<path transform="translate(104.62,282.2)" d="M0,0L2.05,-0M0,0L0.63,-1.95M0,0L-1.66,-1.2M0,0L-1.66,1.2M0,0L0.63,1.95" class="st"/>
<path d="M113.04,302.4V302.29H120.44V302.4" stroke="#ff3838" class="br"/>
<circle cx="114.04" cy="301.97" r="1.45" stroke="#ff3838" class="dt"/>
<circle cx="116.74" cy="301.2" r="1.45" stroke="#ff3838" class="dt"/>
<circle cx="119.44" cy="301.75" r="1.45" stroke="#ff3838" class="dt"/>
<path transform="translate(116.94,295.1)" d="M0,0L2.05,-0M0,0L0.63,-1.95M0,0L-1.66,-1.2M0,0L-1.66,1.2M0,0L0.63,1.95" class="st"/>
<path transform="translate(116.94,289.75)" d="M0,0L2.05,-0M0,0L0.63,-1.95M0,0L-1.66,-1.2M0,0L-1.66,1.2M0,0L0.63,1.95" class="st"/>
<path transform="translate(116.94,284.4)" d="M0,0L2.05,-0M0,0L0.63,-1.95M0,0L-1.66,-1.2M0,0L-1.66,1.2M0,0L0.63,1.95" class="st"/>
<text x="141.5" y="231" class="lt">H</text>
<text x="168.7" y="230.7" class="tt">NUDT11</text>
<path d="M161.4,232.2V303.3H263.9" class="ax"/>
<text x="156.5" y="305.6" class="tl">0</text>
<text x="156.5" y="283.63" class="tl">2</text>
<text x="156.5" y="261.67" class="tl">4</text>
<text x="156.5" y="239.7" class="tl">6</text>
<path d="M158.1,303.3H161.4M158.1,281.33H161.4M158.1,259.37H161.4M158.1,237.4H161.4M169.4,303.3V307.3M181.72,303.3V307.3M194.04,303.3V307.3M206.36,303.3V307.3M218.68,303.3V307.3M231,303.3V307.3M243.32,303.3V307.3M255.64,303.3V307.3" class="ax"/>
<text transform="translate(147.4,267.3) rotate(-90)" class="yl">Relative mRNA level</text>
<text transform="translate(171,311.6) rotate(-45)" class="xl">HIEC-6</text>
<text transform="translate(183.32,311.6) rotate(-45)" class="xl">SW48</text>
<text transform="translate(195.64,311.6) rotate(-45)" class="xl">WiDr</text>
<text transform="translate(207.96,311.6) rotate(-45)" class="xl">HCT116</text>
<text transform="translate(220.28,311.6) rotate(-45)" class="xl">RKO</text>
<text transform="translate(232.6,311.6) rotate(-45)" class="xl">HCT8</text>
<text transform="translate(244.92,311.6) rotate(-45)" class="xl">HCT15</text>
<text transform="translate(257.24,311.6) rotate(-45)" class="xl">DLD1</text>
<path d="M165.7,303.3V292.76H173.1V303.3" stroke="#1e1e1e" class="br"/>
<circle cx="167.2" cy="289.35" r="1.45" stroke="#1e1e1e" class="dt"/>
<circle cx="169.8" cy="291" r="1.45" stroke="#1e1e1e" class="dt"/>
<circle cx="172" cy="291.44" r="1.45" stroke="#1e1e1e" class="dt"/>
<path d="M178.02,303.3V298.14H185.42V303.3" stroke="#a8a636" class="br"/>
<circle cx="179.02" cy="297.81" r="1.45" stroke="#a8a636" class="dt"/>
<circle cx="181.72" cy="297.04" r="1.45" stroke="#a8a636" class="dt"/>
<circle cx="184.42" cy="297.59" r="1.45" stroke="#a8a636" class="dt"/>
<path transform="translate(181.92,289.3)" d="M0,0L2.05,-0M0,0L0.63,-1.95M0,0L-1.66,-1.2M0,0L-1.66,1.2M0,0L0.63,1.95" class="st"/>
<path transform="translate(181.92,283.95)" d="M0,0L2.05,-0M0,0L0.63,-1.95M0,0L-1.66,-1.2M0,0L-1.66,1.2M0,0L0.63,1.95" class="st"/>
<path transform="translate(181.92,278.6)" d="M0,0L2.05,-0M0,0L0.63,-1.95M0,0L-1.66,-1.2M0,0L-1.66,1.2M0,0L0.63,1.95" class="st"/>
<path d="M190.34,303.3V293.2H197.74V303.3" stroke="#2fa02f" class="br"/>
<circle cx="191.34" cy="292.87" r="1.45" stroke="#2fa02f" class="dt"/>
<circle cx="194.04" cy="292.1" r="1.45" stroke="#2fa02f" class="dt"/>
<circle cx="196.74" cy="292.65" r="1.45" stroke="#2fa02f" class="dt"/>
<text x="194.04" y="285.6" class="ns">ns</text>
<path d="M202.66,303.3V300.88H210.06V303.3" stroke="#bd6a30" class="br"/>
<circle cx="203.66" cy="300.55" r="1.45" stroke="#bd6a30" class="dt"/>
<circle cx="206.36" cy="299.79" r="1.45" stroke="#bd6a30" class="dt"/>
<circle cx="209.06" cy="300.33" r="1.45" stroke="#bd6a30" class="dt"/>
<path transform="translate(206.56,294.7)" d="M0,0L2.05,-0M0,0L0.63,-1.95M0,0L-1.66,-1.2M0,0L-1.66,1.2M0,0L0.63,1.95" class="st"/>
<path transform="translate(206.56,289.35)" d="M0,0L2.05,-0M0,0L0.63,-1.95M0,0L-1.66,-1.2M0,0L-1.66,1.2M0,0L0.63,1.95" class="st"/>
<path transform="translate(206.56,284)" d="M0,0L2.05,-0M0,0L0.63,-1.95M0,0L-1.66,-1.2M0,0L-1.66,1.2M0,0L0.63,1.95" class="st"/>
<path d="M214.98,303.3V300.22H222.38V303.3" stroke="#b43cf0" class="br"/>
<circle cx="215.98" cy="299.9" r="1.45" stroke="#b43cf0" class="dt"/>
<circle cx="218.68" cy="299.13" r="1.45" stroke="#b43cf0" class="dt"/>
<circle cx="221.38" cy="299.68" r="1.45" stroke="#b43cf0" class="dt"/>
<path transform="translate(218.88,292.7)" d="M0,0L2.05,-0M0,0L0.63,-1.95M0,0L-1.66,-1.2M0,0L-1.66,1.2M0,0L0.63,1.95" class="st"/>
<path transform="translate(218.88,287.35)" d="M0,0L2.05,-0M0,0L0.63,-1.95M0,0L-1.66,-1.2M0,0L-1.66,1.2M0,0L0.63,1.95" class="st"/>
<path transform="translate(218.88,282)" d="M0,0L2.05,-0M0,0L0.63,-1.95M0,0L-1.66,-1.2M0,0L-1.66,1.2M0,0L0.63,1.95" class="st"/>
<path d="M227.3,303.3V302.97H234.7V303.3" stroke="#2f2ff2" class="br"/>
<circle cx="228.3" cy="302.64" r="1.45" stroke="#2f2ff2" class="dt"/>
<circle cx="231" cy="301.87" r="1.45" stroke="#2f2ff2" class="dt"/>
<circle cx="233.7" cy="302.42" r="1.45" stroke="#2f2ff2" class="dt"/>
<path transform="translate(231.2,295.6)" d="M0,0L2.05,-0M0,0L0.63,-1.95M0,0L-1.66,-1.2M0,0L-1.66,1.2M0,0L0.63,1.95" class="st"/>
<path transform="translate(231.2,290.25)" d="M0,0L2.05,-0M0,0L0.63,-1.95M0,0L-1.66,-1.2M0,0L-1.66,1.2M0,0L0.63,1.95" class="st"/>
<path transform="translate(231.2,284.9)" d="M0,0L2.05,-0M0,0L0.63,-1.95M0,0L-1.66,-1.2M0,0L-1.66,1.2M0,0L0.63,1.95" class="st"/>
<path d="M239.62,303.3V299.57H247.02V303.3" stroke="#ff9a35" class="br"/>
<circle cx="240.62" cy="299.24" r="1.45" stroke="#ff9a35" class="dt"/>
<circle cx="243.32" cy="298.47" r="1.45" stroke="#ff9a35" class="dt"/>
<circle cx="246.02" cy="299.02" r="1.45" stroke="#ff9a35" class="dt"/>
<path transform="translate(243.52,290.6)" d="M0,0L2.05,-0M0,0L0.63,-1.95M0,0L-1.66,-1.2M0,0L-1.66,1.2M0,0L0.63,1.95" class="st"/>
<path transform="translate(243.52,285.25)" d="M0,0L2.05,-0M0,0L0.63,-1.95M0,0L-1.66,-1.2M0,0L-1.66,1.2M0,0L0.63,1.95" class="st"/>
<path transform="translate(243.52,279.9)" d="M0,0L2.05,-0M0,0L0.63,-1.95M0,0L-1.66,-1.2M0,0L-1.66,1.2M0,0L0.63,1.95" class="st"/>
<path d="M251.94,303.3V303.19H259.34V303.3" stroke="#ff3838" class="br"/>
<circle cx="252.94" cy="302.86" r="1.45" stroke="#ff3838" class="dt"/>
<circle cx="255.64" cy="302.09" r="1.45" stroke="#ff3838" class="dt"/>
<circle cx="258.34" cy="302.64" r="1.45" stroke="#ff3838" class="dt"/>
<path transform="translate(255.84,295.1)" d="M0,0L2.05,-0M0,0L0.63,-1.95M0,0L-1.66,-1.2M0,0L-1.66,1.2M0,0L0.63,1.95" class="st"/>
<path transform="translate(255.84,289.75)" d="M0,0L2.05,-0M0,0L0.63,-1.95M0,0L-1.66,-1.2M0,0L-1.66,1.2M0,0L0.63,1.95" class="st"/>
<path transform="translate(255.84,284.4)" d="M0,0L2.05,-0M0,0L0.63,-1.95M0,0L-1.66,-1.2M0,0L-1.66,1.2M0,0L0.63,1.95" class="st"/>
<text x="277.7" y="231" class="lt">I</text>
<text x="332" y="230.7" class="tt">NUDT3</text>
<path d="M294.1,232.4V303H396.6" class="ax"/>
<text x="289.2" y="305.3" class="tl">0</text>
<text x="289.2" y="283.5" class="tl">2</text>
<text x="289.2" y="261.7" class="tl">4</text>
<text x="289.2" y="239.9" class="tl">6</text>
<path d="M290.8,303H294.1M290.8,281.2H294.1M290.8,259.4H294.1M290.8,237.6H294.1M302.6,303V307M314.92,303V307M327.24,303V307M339.56,303V307M351.88,303V307M364.2,303V307M376.52,303V307M388.84,303V307" class="ax"/>
<text transform="translate(280.1,267) rotate(-90)" class="yl">Relative mRNA level</text>
<text transform="translate(304.2,311.3) rotate(-45)" class="xl">HIEC-6</text>
<text transform="translate(316.52,311.3) rotate(-45)" class="xl">SW48</text>
<text transform="translate(328.84,311.3) rotate(-45)" class="xl">WiDr</text>
<text transform="translate(341.16,311.3) rotate(-45)" class="xl">HCT116</text>
<text transform="translate(353.48,311.3) rotate(-45)" class="xl">RKO</text>
<text transform="translate(365.8,311.3) rotate(-45)" class="xl">HCT8</text>
<text transform="translate(378.12,311.3) rotate(-45)" class="xl">HCT15</text>
<text transform="translate(390.44,311.3) rotate(-45)" class="xl">DLD1</text>
<path d="M298.9,303V292.86H306.3V303" stroke="#1e1e1e" class="br"/>
<circle cx="299.9" cy="292.54" r="1.45" stroke="#1e1e1e" class="dt"/>
<circle cx="302.6" cy="291.77" r="1.45" stroke="#1e1e1e" class="dt"/>
<circle cx="305.3" cy="292.32" r="1.45" stroke="#1e1e1e" class="dt"/>
<path d="M311.22,303V251.44H318.62V303" stroke="#a8a636" class="br"/>
<circle cx="313.32" cy="248.06" r="1.45" stroke="#a8a636" class="dt"/>
<circle cx="313.32" cy="250.68" r="1.45" stroke="#a8a636" class="dt"/>
<circle cx="317.12" cy="250.9" r="1.45" stroke="#a8a636" class="dt"/>
<path transform="translate(315.12,241.6)" d="M0,0L2.05,-0M0,0L0.63,-1.95M0,0L-1.66,-1.2M0,0L-1.66,1.2M0,0L0.63,1.95" class="st"/>
<path transform="translate(315.12,236.25)" d="M0,0L2.05,-0M0,0L0.63,-1.95M0,0L-1.66,-1.2M0,0L-1.66,1.2M0,0L0.63,1.95" class="st"/>
<path transform="translate(315.12,230.9)" d="M0,0L2.05,-0M0,0L0.63,-1.95M0,0L-1.66,-1.2M0,0L-1.66,1.2M0,0L0.63,1.95" class="st"/>
<path d="M323.54,303V282.83H330.94V303" stroke="#2fa02f" class="br"/>
<circle cx="324.54" cy="282.51" r="1.45" stroke="#2fa02f" class="dt"/>
<circle cx="327.24" cy="281.75" r="1.45" stroke="#2fa02f" class="dt"/>
<circle cx="329.94" cy="282.29" r="1.45" stroke="#2fa02f" class="dt"/>
<path transform="translate(327.44,273.7)" d="M0,0L2.05,-0M0,0L0.63,-1.95M0,0L-1.66,-1.2M0,0L-1.66,1.2M0,0L0.63,1.95" class="st"/>
<path transform="translate(327.44,268.35)" d="M0,0L2.05,-0M0,0L0.63,-1.95M0,0L-1.66,-1.2M0,0L-1.66,1.2M0,0L0.63,1.95" class="st"/>
<path transform="translate(327.44,263)" d="M0,0L2.05,-0M0,0L0.63,-1.95M0,0L-1.66,-1.2M0,0L-1.66,1.2M0,0L0.63,1.95" class="st"/>
<path d="M335.86,303V285.67H343.26V303" stroke="#bd6a30" class="br"/>
<circle cx="336.86" cy="285.34" r="1.45" stroke="#bd6a30" class="dt"/>
<circle cx="339.56" cy="284.58" r="1.45" stroke="#bd6a30" class="dt"/>
<circle cx="342.26" cy="285.12" r="1.45" stroke="#bd6a30" class="dt"/>
<path transform="translate(339.76,277.4)" d="M0,0L2.05,-0M0,0L0.63,-1.95M0,0L-1.66,-1.2M0,0L-1.66,1.2M0,0L0.63,1.95" class="st"/>
<path transform="translate(339.76,272.05)" d="M0,0L2.05,-0M0,0L0.63,-1.95M0,0L-1.66,-1.2M0,0L-1.66,1.2M0,0L0.63,1.95" class="st"/>
<path transform="translate(339.76,266.7)" d="M0,0L2.05,-0M0,0L0.63,-1.95M0,0L-1.66,-1.2M0,0L-1.66,1.2M0,0L0.63,1.95" class="st"/>
<path d="M348.18,303V275.42H355.58V303" stroke="#b43cf0" class="br"/>
<circle cx="349.18" cy="275.1" r="1.45" stroke="#b43cf0" class="dt"/>
<circle cx="351.88" cy="274.33" r="1.45" stroke="#b43cf0" class="dt"/>
<circle cx="354.58" cy="274.88" r="1.45" stroke="#b43cf0" class="dt"/>
<path transform="translate(352.08,264.7)" d="M0,0L2.05,-0M0,0L0.63,-1.95M0,0L-1.66,-1.2M0,0L-1.66,1.2M0,0L0.63,1.95" class="st"/>
<path transform="translate(352.08,259.35)" d="M0,0L2.05,-0M0,0L0.63,-1.95M0,0L-1.66,-1.2M0,0L-1.66,1.2M0,0L0.63,1.95" class="st"/>
<path transform="translate(352.08,254)" d="M0,0L2.05,-0M0,0L0.63,-1.95M0,0L-1.66,-1.2M0,0L-1.66,1.2M0,0L0.63,1.95" class="st"/>
<path d="M360.5,303V286.32H367.9V303" stroke="#2f2ff2" class="br"/>
<circle cx="361.5" cy="286" r="1.45" stroke="#2f2ff2" class="dt"/>
<circle cx="364.2" cy="285.23" r="1.45" stroke="#2f2ff2" class="dt"/>
<circle cx="366.9" cy="285.78" r="1.45" stroke="#2f2ff2" class="dt"/>
<path transform="translate(364.4,275.4)" d="M0,0L2.05,-0M0,0L0.63,-1.95M0,0L-1.66,-1.2M0,0L-1.66,1.2M0,0L0.63,1.95" class="st"/>
<path transform="translate(364.4,270.05)" d="M0,0L2.05,-0M0,0L0.63,-1.95M0,0L-1.66,-1.2M0,0L-1.66,1.2M0,0L0.63,1.95" class="st"/>
<path transform="translate(364.4,264.7)" d="M0,0L2.05,-0M0,0L0.63,-1.95M0,0L-1.66,-1.2M0,0L-1.66,1.2M0,0L0.63,1.95" class="st"/>
<path d="M372.82,303V286.87H380.22V303" stroke="#ff9a35" class="br"/>
<circle cx="373.82" cy="286.54" r="1.45" stroke="#ff9a35" class="dt"/>
<circle cx="376.52" cy="285.78" r="1.45" stroke="#ff9a35" class="dt"/>
<circle cx="379.22" cy="286.32" r="1.45" stroke="#ff9a35" class="dt"/>
<path transform="translate(376.72,276.1)" d="M0,0L2.05,-0M0,0L0.63,-1.95M0,0L-1.66,-1.2M0,0L-1.66,1.2M0,0L0.63,1.95" class="st"/>
<path transform="translate(376.72,270.75)" d="M0,0L2.05,-0M0,0L0.63,-1.95M0,0L-1.66,-1.2M0,0L-1.66,1.2M0,0L0.63,1.95" class="st"/>
<path transform="translate(376.72,265.4)" d="M0,0L2.05,-0M0,0L0.63,-1.95M0,0L-1.66,-1.2M0,0L-1.66,1.2M0,0L0.63,1.95" class="st"/>
<path d="M385.14,303V286.32H392.54V303" stroke="#ff3838" class="br"/>
<circle cx="387.04" cy="282.94" r="1.45" stroke="#ff3838" class="dt"/>
<circle cx="390.64" cy="283.82" r="1.45" stroke="#ff3838" class="dt"/>
<circle cx="391.24" cy="286.65" r="1.45" stroke="#ff3838" class="dt"/>
<circle cx="386.64" cy="287.09" r="1.45" stroke="#ff3838" class="dt"/>
<path transform="translate(389.04,275.4)" d="M0,0L2.05,-0M0,0L0.63,-1.95M0,0L-1.66,-1.2M0,0L-1.66,1.2M0,0L0.63,1.95" class="st"/>
<path transform="translate(389.04,270.05)" d="M0,0L2.05,-0M0,0L0.63,-1.95M0,0L-1.66,-1.2M0,0L-1.66,1.2M0,0L0.63,1.95" class="st"/>
<path transform="translate(389.04,264.7)" d="M0,0L2.05,-0M0,0L0.63,-1.95M0,0L-1.66,-1.2M0,0L-1.66,1.2M0,0L0.63,1.95" class="st"/>
<text x="4" y="341.9" class="lt">J</text>
<text x="31.9" y="341" class="tt">SNUPN</text>
<path d="M23.4,344.1V414.9H125.9" class="ax"/>
<text x="18.5" y="417.2" class="tl">0</text>
<text x="18.5" y="395.33" class="tl">2</text>
<text x="18.5" y="373.47" class="tl">4</text>
<text x="18.5" y="351.6" class="tl">6</text>
<path d="M20.1,414.9H23.4M20.1,393.03H23.4M20.1,371.17H23.4M20.1,349.3H23.4M31.4,414.9V418.9M43.72,414.9V418.9M56.04,414.9V418.9M68.36,414.9V418.9M80.68,414.9V418.9M93,414.9V418.9M105.32,414.9V418.9M117.64,414.9V418.9" class="ax"/>
<text transform="translate(9.4,378.9) rotate(-90)" class="yl">Relative mRNA level</text>
<text transform="translate(33,423.2) rotate(-45)" class="xl">HIEC-6</text>
<text transform="translate(45.32,423.2) rotate(-45)" class="xl">SW48</text>
<text transform="translate(57.64,423.2) rotate(-45)" class="xl">WiDr</text>
<text transform="translate(69.96,423.2) rotate(-45)" class="xl">HCT116</text>
<text transform="translate(82.28,423.2) rotate(-45)" class="xl">RKO</text>
<text transform="translate(94.6,423.2) rotate(-45)" class="xl">HCT8</text>
<text transform="translate(106.92,423.2) rotate(-45)" class="xl">HCT15</text>
<text transform="translate(119.24,423.2) rotate(-45)" class="xl">DLD1</text>
<path d="M27.7,414.9V404.73H35.1V414.9" stroke="#1e1e1e" class="br"/>
<circle cx="28.7" cy="404.4" r="1.45" stroke="#1e1e1e" class="dt"/>
<circle cx="31.4" cy="403.64" r="1.45" stroke="#1e1e1e" class="dt"/>
<circle cx="34.1" cy="404.19" r="1.45" stroke="#1e1e1e" class="dt"/>
<path d="M40.02,414.9V392.92H47.42V414.9" stroke="#a8a636" class="br"/>
<circle cx="41.02" cy="392.6" r="1.45" stroke="#a8a636" class="dt"/>
<circle cx="43.72" cy="391.83" r="1.45" stroke="#a8a636" class="dt"/>
<circle cx="46.42" cy="392.38" r="1.45" stroke="#a8a636" class="dt"/>
<path transform="translate(43.92,382)" d="M0,0L2.05,-0M0,0L0.63,-1.95M0,0L-1.66,-1.2M0,0L-1.66,1.2M0,0L0.63,1.95" class="st"/>
<path transform="translate(43.92,376.65)" d="M0,0L2.05,-0M0,0L0.63,-1.95M0,0L-1.66,-1.2M0,0L-1.66,1.2M0,0L0.63,1.95" class="st"/>
<path transform="translate(43.92,371.3)" d="M0,0L2.05,-0M0,0L0.63,-1.95M0,0L-1.66,-1.2M0,0L-1.66,1.2M0,0L0.63,1.95" class="st"/>
<path d="M52.34,414.9V380.02H59.74V414.9" stroke="#2fa02f" class="br"/>
<path d="M56.04,383.41V380.02M54.24,383.41H57.84" stroke="#2fa02f" class="eb"/>
<circle cx="56.04" cy="383.41" r="1.45" stroke="#2fa02f" class="dt"/>
<circle cx="54.04" cy="379.48" r="1.45" stroke="#2fa02f" class="dt"/>
<circle cx="58.04" cy="379.48" r="1.45" stroke="#2fa02f" class="dt"/>
<circle cx="56.04" cy="378.93" r="1.45" stroke="#2fa02f" class="dt"/>
<path transform="translate(56.24,371.1)" d="M0,0L2.05,-0M0,0L0.63,-1.95M0,0L-1.66,-1.2M0,0L-1.66,1.2M0,0L0.63,1.95" class="st"/>
<path transform="translate(56.24,365.75)" d="M0,0L2.05,-0M0,0L0.63,-1.95M0,0L-1.66,-1.2M0,0L-1.66,1.2M0,0L0.63,1.95" class="st"/>
<path transform="translate(56.24,360.4)" d="M0,0L2.05,-0M0,0L0.63,-1.95M0,0L-1.66,-1.2M0,0L-1.66,1.2M0,0L0.63,1.95" class="st"/>
<path d="M64.66,414.9V399.81H72.06V414.9" stroke="#bd6a30" class="br"/>
<circle cx="65.66" cy="399.48" r="1.45" stroke="#bd6a30" class="dt"/>
<circle cx="68.36" cy="398.72" r="1.45" stroke="#bd6a30" class="dt"/>
<circle cx="71.06" cy="399.27" r="1.45" stroke="#bd6a30" class="dt"/>
<path transform="translate(68.56,390.1)" d="M0,0L2.05,-0M0,0L0.63,-1.95M0,0L-1.66,-1.2M0,0L-1.66,1.2M0,0L0.63,1.95" class="st"/>
<path transform="translate(68.56,384.75)" d="M0,0L2.05,-0M0,0L0.63,-1.95M0,0L-1.66,-1.2M0,0L-1.66,1.2M0,0L0.63,1.95" class="st"/>
<path d="M76.98,414.9V400.47H84.38V414.9" stroke="#b43cf0" class="br"/>
<circle cx="77.98" cy="400.14" r="1.45" stroke="#b43cf0" class="dt"/>
<circle cx="80.68" cy="399.37" r="1.45" stroke="#b43cf0" class="dt"/>
<circle cx="83.38" cy="399.92" r="1.45" stroke="#b43cf0" class="dt"/>
<path transform="translate(80.88,389.5)" d="M0,0L2.05,-0M0,0L0.63,-1.95M0,0L-1.66,-1.2M0,0L-1.66,1.2M0,0L0.63,1.95" class="st"/>
<path d="M89.3,414.9V404.29H96.7V414.9" stroke="#2f2ff2" class="br"/>
<circle cx="90.3" cy="403.97" r="1.45" stroke="#2f2ff2" class="dt"/>
<circle cx="93" cy="403.2" r="1.45" stroke="#2f2ff2" class="dt"/>
<circle cx="95.7" cy="403.75" r="1.45" stroke="#2f2ff2" class="dt"/>
<text x="93" y="397.4" class="ns">ns</text>
<path d="M101.62,414.9V396.86H109.02V414.9" stroke="#ff9a35" class="br"/>
<circle cx="102.62" cy="396.53" r="1.45" stroke="#ff9a35" class="dt"/>
<circle cx="105.32" cy="395.77" r="1.45" stroke="#ff9a35" class="dt"/>
<circle cx="108.02" cy="396.31" r="1.45" stroke="#ff9a35" class="dt"/>
<path transform="translate(105.52,387.5)" d="M0,0L2.05,-0M0,0L0.63,-1.95M0,0L-1.66,-1.2M0,0L-1.66,1.2M0,0L0.63,1.95" class="st"/>
<path transform="translate(105.52,382.15)" d="M0,0L2.05,-0M0,0L0.63,-1.95M0,0L-1.66,-1.2M0,0L-1.66,1.2M0,0L0.63,1.95" class="st"/>
<path transform="translate(105.52,376.8)" d="M0,0L2.05,-0M0,0L0.63,-1.95M0,0L-1.66,-1.2M0,0L-1.66,1.2M0,0L0.63,1.95" class="st"/>
<path d="M113.94,414.9V396.31H121.34V414.9" stroke="#ff3838" class="br"/>
<path d="M117.64,396.31V393.25M115.84,393.25H119.44" stroke="#ff3838" class="eb"/>
<circle cx="117.64" cy="393.25" r="1.45" stroke="#ff3838" class="dt"/>
<circle cx="115.64" cy="395.99" r="1.45" stroke="#ff3838" class="dt"/>
<circle cx="119.64" cy="395.99" r="1.45" stroke="#ff3838" class="dt"/>
<circle cx="117.64" cy="395.44" r="1.45" stroke="#ff3838" class="dt"/>
<path transform="translate(117.84,386.9)" d="M0,0L2.05,-0M0,0L0.63,-1.95M0,0L-1.66,-1.2M0,0L-1.66,1.2M0,0L0.63,1.95" class="st"/>
<path transform="translate(117.84,381.55)" d="M0,0L2.05,-0M0,0L0.63,-1.95M0,0L-1.66,-1.2M0,0L-1.66,1.2M0,0L0.63,1.95" class="st"/>
<path transform="translate(117.84,376.2)" d="M0,0L2.05,-0M0,0L0.63,-1.95M0,0L-1.66,-1.2M0,0L-1.66,1.2M0,0L0.63,1.95" class="st"/>
<text x="142.7" y="342.2" class="lt">K</text>
<text x="172.7" y="340" class="tt">NUDT4</text>
<path d="M164.5,343.8V414.5H267" class="ax"/>
<text x="159.6" y="416.8" class="tl">0</text>
<text x="159.6" y="394.97" class="tl">2</text>
<text x="159.6" y="373.13" class="tl">4</text>
<text x="159.6" y="351.3" class="tl">6</text>
<path d="M161.2,414.5H164.5M161.2,392.67H164.5M161.2,370.83H164.5M161.2,349H164.5M172.5,414.5V418.5M184.82,414.5V418.5M197.14,414.5V418.5M209.46,414.5V418.5M221.78,414.5V418.5M234.1,414.5V418.5M246.42,414.5V418.5M258.74,414.5V418.5" class="ax"/>
<text transform="translate(150.5,378.5) rotate(-90)" class="yl">Relative mRNA level</text>
<text transform="translate(174.1,422.8) rotate(-45)" class="xl">HIEC-6</text>
<text transform="translate(186.42,422.8) rotate(-45)" class="xl">SW48</text>
<text transform="translate(198.74,422.8) rotate(-45)" class="xl">WiDr</text>
<text transform="translate(211.06,422.8) rotate(-45)" class="xl">HCT116</text>
<text transform="translate(223.38,422.8) rotate(-45)" class="xl">RKO</text>
<text transform="translate(235.7,422.8) rotate(-45)" class="xl">HCT8</text>
<text transform="translate(248.02,422.8) rotate(-45)" class="xl">HCT15</text>
<text transform="translate(260.34,422.8) rotate(-45)" class="xl">DLD1</text>
<path d="M168.8,414.5V404.35H176.2V414.5" stroke="#1e1e1e" class="br"/>
<circle cx="169.8" cy="404.02" r="1.45" stroke="#1e1e1e" class="dt"/>
<circle cx="172.5" cy="403.26" r="1.45" stroke="#1e1e1e" class="dt"/>
<circle cx="175.2" cy="403.8" r="1.45" stroke="#1e1e1e" class="dt"/>
<path d="M181.12,414.5V402.71H188.52V414.5" stroke="#a8a636" class="br"/>
<path d="M184.82,402.71V398.23M183.02,398.23H186.62" stroke="#a8a636" class="eb"/>
<circle cx="184.82" cy="398.23" r="1.45" stroke="#a8a636" class="dt"/>
<circle cx="182.82" cy="402.38" r="1.45" stroke="#a8a636" class="dt"/>
<circle cx="186.82" cy="402.38" r="1.45" stroke="#a8a636" class="dt"/>
<circle cx="184.82" cy="401.84" r="1.45" stroke="#a8a636" class="dt"/>
<text x="184.82" y="393.7" class="ns">ns</text>
<path d="M193.44,414.5V392.45H200.84V414.5" stroke="#2fa02f" class="br"/>
<circle cx="194.44" cy="392.12" r="1.45" stroke="#2fa02f" class="dt"/>
<circle cx="197.14" cy="391.36" r="1.45" stroke="#2fa02f" class="dt"/>
<circle cx="199.84" cy="391.9" r="1.45" stroke="#2fa02f" class="dt"/>
<path transform="translate(197.34,382.4)" d="M0,0L2.05,-0M0,0L0.63,-1.95M0,0L-1.66,-1.2M0,0L-1.66,1.2M0,0L0.63,1.95" class="st"/>
<path transform="translate(197.34,377.05)" d="M0,0L2.05,-0M0,0L0.63,-1.95M0,0L-1.66,-1.2M0,0L-1.66,1.2M0,0L0.63,1.95" class="st"/>
<path transform="translate(197.34,371.7)" d="M0,0L2.05,-0M0,0L0.63,-1.95M0,0L-1.66,-1.2M0,0L-1.66,1.2M0,0L0.63,1.95" class="st"/>
<path d="M205.76,414.5V376.18H213.16V414.5" stroke="#bd6a30" class="br"/>
<path d="M209.46,377.93V367.89M207.66,367.89H211.26M207.66,377.93H211.26" stroke="#bd6a30" class="eb"/>
<circle cx="209.46" cy="367.89" r="1.45" stroke="#bd6a30" class="dt"/>
<circle cx="209.46" cy="377.93" r="1.45" stroke="#bd6a30" class="dt"/>
<circle cx="207.86" cy="375.64" r="1.45" stroke="#bd6a30" class="dt"/>
<circle cx="211.06" cy="375.64" r="1.45" stroke="#bd6a30" class="dt"/>
<path transform="translate(209.66,360.7)" d="M0,0L2.05,-0M0,0L0.63,-1.95M0,0L-1.66,-1.2M0,0L-1.66,1.2M0,0L0.63,1.95" class="st"/>
<path transform="translate(209.66,355.35)" d="M0,0L2.05,-0M0,0L0.63,-1.95M0,0L-1.66,-1.2M0,0L-1.66,1.2M0,0L0.63,1.95" class="st"/>
<path transform="translate(209.66,350)" d="M0,0L2.05,-0M0,0L0.63,-1.95M0,0L-1.66,-1.2M0,0L-1.66,1.2M0,0L0.63,1.95" class="st"/>
<path d="M218.08,414.5V400.64H225.48V414.5" stroke="#b43cf0" class="br"/>
<circle cx="219.08" cy="400.31" r="1.45" stroke="#b43cf0" class="dt"/>
<circle cx="221.78" cy="399.54" r="1.45" stroke="#b43cf0" class="dt"/>
<circle cx="224.48" cy="400.09" r="1.45" stroke="#b43cf0" class="dt"/>
<text x="221.78" y="393.7" class="ns">ns</text>
<path d="M230.4,414.5V397.69H237.8V414.5" stroke="#2f2ff2" class="br"/>
<circle cx="231.4" cy="397.36" r="1.45" stroke="#2f2ff2" class="dt"/>
<circle cx="234.1" cy="396.6" r="1.45" stroke="#2f2ff2" class="dt"/>
<circle cx="236.8" cy="397.14" r="1.45" stroke="#2f2ff2" class="dt"/>
<path transform="translate(234.3,386.5)" d="M0,0L2.05,-0M0,0L0.63,-1.95M0,0L-1.66,-1.2M0,0L-1.66,1.2M0,0L0.63,1.95" class="st"/>
<path transform="translate(234.3,381.15)" d="M0,0L2.05,-0M0,0L0.63,-1.95M0,0L-1.66,-1.2M0,0L-1.66,1.2M0,0L0.63,1.95" class="st"/>
<path d="M242.72,414.5V391.57H250.12V414.5" stroke="#ff9a35" class="br"/>
<circle cx="243.72" cy="391.25" r="1.45" stroke="#ff9a35" class="dt"/>
<circle cx="246.42" cy="390.48" r="1.45" stroke="#ff9a35" class="dt"/>
<circle cx="249.12" cy="391.03" r="1.45" stroke="#ff9a35" class="dt"/>
<path transform="translate(246.62,379.3)" d="M0,0L2.05,-0M0,0L0.63,-1.95M0,0L-1.66,-1.2M0,0L-1.66,1.2M0,0L0.63,1.95" class="st"/>
<path transform="translate(246.62,373.95)" d="M0,0L2.05,-0M0,0L0.63,-1.95M0,0L-1.66,-1.2M0,0L-1.66,1.2M0,0L0.63,1.95" class="st"/>
<path transform="translate(246.62,368.6)" d="M0,0L2.05,-0M0,0L0.63,-1.95M0,0L-1.66,-1.2M0,0L-1.66,1.2M0,0L0.63,1.95" class="st"/>
<path d="M255.04,414.5V392.99H262.44V414.5" stroke="#ff3838" class="br"/>
<circle cx="256.04" cy="392.67" r="1.45" stroke="#ff3838" class="dt"/>
<circle cx="258.74" cy="391.9" r="1.45" stroke="#ff3838" class="dt"/>
<circle cx="261.44" cy="392.45" r="1.45" stroke="#ff3838" class="dt"/>
<path transform="translate(258.94,382.4)" d="M0,0L2.05,-0M0,0L0.63,-1.95M0,0L-1.66,-1.2M0,0L-1.66,1.2M0,0L0.63,1.95" class="st"/>
<path transform="translate(258.94,377.05)" d="M0,0L2.05,-0M0,0L0.63,-1.95M0,0L-1.66,-1.2M0,0L-1.66,1.2M0,0L0.63,1.95" class="st"/>
<path transform="translate(258.94,371.7)" d="M0,0L2.05,-0M0,0L0.63,-1.95M0,0L-1.66,-1.2M0,0L-1.66,1.2M0,0L0.63,1.95" class="st"/>
<text x="276.5" y="340.7" class="lt">L</text>
<text x="301.9" y="339.8" class="tt">GEMIN5</text>
<path d="M295.3,343.2V414.3H397.8" class="ax"/>
<text x="290.4" y="416.6" class="tl">0</text>
<text x="290.4" y="394.63" class="tl">2</text>
<text x="290.4" y="372.67" class="tl">4</text>
<text x="290.4" y="350.7" class="tl">6</text>
<path d="M292,414.3H295.3M292,392.33H295.3M292,370.37H295.3M292,348.4H295.3M303.3,414.3V418.3M315.62,414.3V418.3M327.94,414.3V418.3M340.26,414.3V418.3M352.58,414.3V418.3M364.9,414.3V418.3M377.22,414.3V418.3M389.54,414.3V418.3" class="ax"/>
<text transform="translate(281.3,378.3) rotate(-90)" class="yl">Relative mRNA level</text>
<text transform="translate(304.9,422.6) rotate(-45)" class="xl">HIEC-6</text>
<text transform="translate(317.22,422.6) rotate(-45)" class="xl">SW48</text>
<text transform="translate(329.54,422.6) rotate(-45)" class="xl">WiDr</text>
<text transform="translate(341.86,422.6) rotate(-45)" class="xl">HCT116</text>
<text transform="translate(354.18,422.6) rotate(-45)" class="xl">RKO</text>
<text transform="translate(366.5,422.6) rotate(-45)" class="xl">HCT8</text>
<text transform="translate(378.82,422.6) rotate(-45)" class="xl">HCT15</text>
<text transform="translate(391.14,422.6) rotate(-45)" class="xl">DLD1</text>
<path d="M299.6,414.3V404.09H307V414.3" stroke="#1e1e1e" class="br"/>
<circle cx="300.6" cy="403.76" r="1.45" stroke="#1e1e1e" class="dt"/>
<circle cx="303.3" cy="402.99" r="1.45" stroke="#1e1e1e" class="dt"/>
<circle cx="306" cy="403.54" r="1.45" stroke="#1e1e1e" class="dt"/>
<path d="M311.92,414.3V394.75H319.32V414.3" stroke="#a8a636" class="br"/>
<path d="M315.62,394.75V387.94M313.82,387.94H317.42" stroke="#a8a636" class="eb"/>
<circle cx="315.62" cy="387.94" r="1.45" stroke="#a8a636" class="dt"/>
<circle cx="313.62" cy="394.42" r="1.45" stroke="#a8a636" class="dt"/>
<circle cx="317.62" cy="394.42" r="1.45" stroke="#a8a636" class="dt"/>
<circle cx="315.62" cy="393.87" r="1.45" stroke="#a8a636" class="dt"/>
<path transform="translate(315.82,380.7)" d="M0,0L2.05,-0M0,0L0.63,-1.95M0,0L-1.66,-1.2M0,0L-1.66,1.2M0,0L0.63,1.95" class="st"/>
<path d="M324.24,414.3V391.89H331.64V414.3" stroke="#2fa02f" class="br"/>
<circle cx="325.24" cy="391.56" r="1.45" stroke="#2fa02f" class="dt"/>
<circle cx="327.94" cy="390.8" r="1.45" stroke="#2fa02f" class="dt"/>
<circle cx="330.64" cy="391.34" r="1.45" stroke="#2fa02f" class="dt"/>
<path transform="translate(328.14,383.9)" d="M0,0L2.05,-0M0,0L0.63,-1.95M0,0L-1.66,-1.2M0,0L-1.66,1.2M0,0L0.63,1.95" class="st"/>
<path d="M336.56,414.3V362.46H343.96V414.3" stroke="#bd6a30" class="br"/>
<path d="M340.26,368.06V353.01M338.46,353.01H342.06M338.46,368.06H342.06" stroke="#bd6a30" class="eb"/>
<circle cx="340.26" cy="353.01" r="1.45" stroke="#bd6a30" class="dt"/>
<circle cx="340.26" cy="368.06" r="1.45" stroke="#bd6a30" class="dt"/>
<circle cx="338.66" cy="361.91" r="1.45" stroke="#bd6a30" class="dt"/>
<circle cx="341.86" cy="361.91" r="1.45" stroke="#bd6a30" class="dt"/>
<path transform="translate(340.46,348.6)" d="M0,0L2.05,-0M0,0L0.63,-1.95M0,0L-1.66,-1.2M0,0L-1.66,1.2M0,0L0.63,1.95" class="st"/>
<path transform="translate(340.46,343.25)" d="M0,0L2.05,-0M0,0L0.63,-1.95M0,0L-1.66,-1.2M0,0L-1.66,1.2M0,0L0.63,1.95" class="st"/>
<path transform="translate(340.46,337.9)" d="M0,0L2.05,-0M0,0L0.63,-1.95M0,0L-1.66,-1.2M0,0L-1.66,1.2M0,0L0.63,1.95" class="st"/>
<path d="M348.88,414.3V400.68H356.28V414.3" stroke="#b43cf0" class="br"/>
<circle cx="349.88" cy="400.35" r="1.45" stroke="#b43cf0" class="dt"/>
<circle cx="352.58" cy="399.58" r="1.45" stroke="#b43cf0" class="dt"/>
<circle cx="355.28" cy="400.13" r="1.45" stroke="#b43cf0" class="dt"/>
<text x="352.58" y="393.8" class="ns">ns</text>
<path d="M361.2,414.3V397.93H368.6V414.3" stroke="#2f2ff2" class="br"/>
<circle cx="362.2" cy="397.61" r="1.45" stroke="#2f2ff2" class="dt"/>
<circle cx="364.9" cy="396.84" r="1.45" stroke="#2f2ff2" class="dt"/>
<circle cx="367.6" cy="397.39" r="1.45" stroke="#2f2ff2" class="dt"/>
<text x="364.9" y="390.8" class="ns">ns</text>
<path d="M373.52,414.3V370.04H380.92V414.3" stroke="#ff9a35" class="br"/>
<path d="M377.22,373.66V363.45M375.42,363.45H379.02M375.42,373.66H379.02" stroke="#ff9a35" class="eb"/>
<circle cx="377.22" cy="363.45" r="1.45" stroke="#ff9a35" class="dt"/>
<circle cx="377.22" cy="373.66" r="1.45" stroke="#ff9a35" class="dt"/>
<circle cx="375.62" cy="369.49" r="1.45" stroke="#ff9a35" class="dt"/>
<circle cx="378.82" cy="369.49" r="1.45" stroke="#ff9a35" class="dt"/>
<path transform="translate(377.42,358.4)" d="M0,0L2.05,-0M0,0L0.63,-1.95M0,0L-1.66,-1.2M0,0L-1.66,1.2M0,0L0.63,1.95" class="st"/>
<path transform="translate(377.42,353.05)" d="M0,0L2.05,-0M0,0L0.63,-1.95M0,0L-1.66,-1.2M0,0L-1.66,1.2M0,0L0.63,1.95" class="st"/>
<path transform="translate(377.42,347.7)" d="M0,0L2.05,-0M0,0L0.63,-1.95M0,0L-1.66,-1.2M0,0L-1.66,1.2M0,0L0.63,1.95" class="st"/>
<path d="M385.84,414.3V394.75H393.24V414.3" stroke="#ff3838" class="br"/>
<circle cx="386.84" cy="394.42" r="1.45" stroke="#ff3838" class="dt"/>
<circle cx="389.54" cy="393.65" r="1.45" stroke="#ff3838" class="dt"/>
<circle cx="392.24" cy="394.2" r="1.45" stroke="#ff3838" class="dt"/>
<path transform="translate(389.74,387.1)" d="M0,0L2.05,-0M0,0L0.63,-1.95M0,0L-1.66,-1.2M0,0L-1.66,1.2M0,0L0.63,1.95" class="st"/>
<text x="4.4" y="446.9" class="lt">M</text>
<text x="30.7" y="448.1" class="tt">EIF4E2</text>
<path d="M22,450.5V521H124.5" class="ax"/>
<text x="17.1" y="523.3" class="tl">0</text>
<text x="17.1" y="501.53" class="tl">2</text>
<text x="17.1" y="479.77" class="tl">4</text>
<text x="17.1" y="458" class="tl">6</text>
<path d="M18.7,521H22M18.7,499.23H22M18.7,477.47H22M18.7,455.7H22M30,521V525M42.32,521V525M54.64,521V525M66.96,521V525M79.28,521V525M91.6,521V525M103.92,521V525M116.24,521V525" class="ax"/>
<text transform="translate(8,485) rotate(-90)" class="yl">Relative mRNA level</text>
<text transform="translate(31.6,529.3) rotate(-45)" class="xl">HIEC-6</text>
<text transform="translate(43.92,529.3) rotate(-45)" class="xl">SW48</text>
<text transform="translate(56.24,529.3) rotate(-45)" class="xl">WiDr</text>
<text transform="translate(68.56,529.3) rotate(-45)" class="xl">HCT116</text>
<text transform="translate(80.88,529.3) rotate(-45)" class="xl">RKO</text>
<text transform="translate(93.2,529.3) rotate(-45)" class="xl">HCT8</text>
<text transform="translate(105.52,529.3) rotate(-45)" class="xl">HCT15</text>
<text transform="translate(117.84,529.3) rotate(-45)" class="xl">DLD1</text>
<path d="M26.3,521V510.88H33.7V521" stroke="#1e1e1e" class="br"/>
<circle cx="27.3" cy="510.55" r="1.45" stroke="#1e1e1e" class="dt"/>
<circle cx="30" cy="509.79" r="1.45" stroke="#1e1e1e" class="dt"/>
<circle cx="32.7" cy="510.33" r="1.45" stroke="#1e1e1e" class="dt"/>
<path d="M38.62,521V491.72H46.02V521" stroke="#a8a636" class="br"/>
<circle cx="39.62" cy="491.4" r="1.45" stroke="#a8a636" class="dt"/>
<circle cx="42.32" cy="490.64" r="1.45" stroke="#a8a636" class="dt"/>
<circle cx="45.02" cy="491.18" r="1.45" stroke="#a8a636" class="dt"/>
<path transform="translate(42.52,481.5)" d="M0,0L2.05,-0M0,0L0.63,-1.95M0,0L-1.66,-1.2M0,0L-1.66,1.2M0,0L0.63,1.95" class="st"/>
<path transform="translate(42.52,476.15)" d="M0,0L2.05,-0M0,0L0.63,-1.95M0,0L-1.66,-1.2M0,0L-1.66,1.2M0,0L0.63,1.95" class="st"/>
<path transform="translate(42.52,470.8)" d="M0,0L2.05,-0M0,0L0.63,-1.95M0,0L-1.66,-1.2M0,0L-1.66,1.2M0,0L0.63,1.95" class="st"/>
<path d="M50.94,521V498.14H58.34V521" stroke="#2fa02f" class="br"/>
<path d="M54.64,502.17V498.14M52.84,502.17H56.44" stroke="#2fa02f" class="eb"/>
<circle cx="54.64" cy="502.17" r="1.45" stroke="#2fa02f" class="dt"/>
<circle cx="52.64" cy="497.6" r="1.45" stroke="#2fa02f" class="dt"/>
<circle cx="56.64" cy="497.6" r="1.45" stroke="#2fa02f" class="dt"/>
<circle cx="54.64" cy="497.06" r="1.45" stroke="#2fa02f" class="dt"/>
<path transform="translate(54.84,489.9)" d="M0,0L2.05,-0M0,0L0.63,-1.95M0,0L-1.66,-1.2M0,0L-1.66,1.2M0,0L0.63,1.95" class="st"/>
<path transform="translate(54.84,484.55)" d="M0,0L2.05,-0M0,0L0.63,-1.95M0,0L-1.66,-1.2M0,0L-1.66,1.2M0,0L0.63,1.95" class="st"/>
<path transform="translate(54.84,479.2)" d="M0,0L2.05,-0M0,0L0.63,-1.95M0,0L-1.66,-1.2M0,0L-1.66,1.2M0,0L0.63,1.95" class="st"/>
<path d="M63.26,521V509.03H70.66V521" stroke="#bd6a30" class="br"/>
<circle cx="64.26" cy="508.7" r="1.45" stroke="#bd6a30" class="dt"/>
<circle cx="66.96" cy="507.94" r="1.45" stroke="#bd6a30" class="dt"/>
<circle cx="69.66" cy="508.48" r="1.45" stroke="#bd6a30" class="dt"/>
<text x="66.96" y="498.8" class="ns">ns</text>
<path d="M75.58,521V495.42H82.98V521" stroke="#b43cf0" class="br"/>
<circle cx="76.58" cy="495.1" r="1.45" stroke="#b43cf0" class="dt"/>
<circle cx="79.28" cy="494.34" r="1.45" stroke="#b43cf0" class="dt"/>
<circle cx="81.98" cy="494.88" r="1.45" stroke="#b43cf0" class="dt"/>
<path transform="translate(79.48,485.2)" d="M0,0L2.05,-0M0,0L0.63,-1.95M0,0L-1.66,-1.2M0,0L-1.66,1.2M0,0L0.63,1.95" class="st"/>
<path transform="translate(79.48,479.85)" d="M0,0L2.05,-0M0,0L0.63,-1.95M0,0L-1.66,-1.2M0,0L-1.66,1.2M0,0L0.63,1.95" class="st"/>
<path transform="translate(79.48,474.5)" d="M0,0L2.05,-0M0,0L0.63,-1.95M0,0L-1.66,-1.2M0,0L-1.66,1.2M0,0L0.63,1.95" class="st"/>
<path d="M87.9,521V480.41H95.3V521" stroke="#2f2ff2" class="br"/>
<circle cx="88.9" cy="480.08" r="1.45" stroke="#2f2ff2" class="dt"/>
<circle cx="91.6" cy="479.32" r="1.45" stroke="#2f2ff2" class="dt"/>
<circle cx="94.3" cy="479.86" r="1.45" stroke="#2f2ff2" class="dt"/>
<path transform="translate(91.8,470.1)" d="M0,0L2.05,-0M0,0L0.63,-1.95M0,0L-1.66,-1.2M0,0L-1.66,1.2M0,0L0.63,1.95" class="st"/>
<path transform="translate(91.8,464.75)" d="M0,0L2.05,-0M0,0L0.63,-1.95M0,0L-1.66,-1.2M0,0L-1.66,1.2M0,0L0.63,1.95" class="st"/>
<path transform="translate(91.8,459.4)" d="M0,0L2.05,-0M0,0L0.63,-1.95M0,0L-1.66,-1.2M0,0L-1.66,1.2M0,0L0.63,1.95" class="st"/>
<path d="M100.22,521V503.59H107.62V521" stroke="#ff9a35" class="br"/>
<circle cx="101.22" cy="503.26" r="1.45" stroke="#ff9a35" class="dt"/>
<circle cx="103.92" cy="502.5" r="1.45" stroke="#ff9a35" class="dt"/>
<circle cx="106.62" cy="503.04" r="1.45" stroke="#ff9a35" class="dt"/>
<path transform="translate(104.12,494.2)" d="M0,0L2.05,-0M0,0L0.63,-1.95M0,0L-1.66,-1.2M0,0L-1.66,1.2M0,0L0.63,1.95" class="st"/>
<path transform="translate(104.12,488.85)" d="M0,0L2.05,-0M0,0L0.63,-1.95M0,0L-1.66,-1.2M0,0L-1.66,1.2M0,0L0.63,1.95" class="st"/>
<path transform="translate(104.12,483.5)" d="M0,0L2.05,-0M0,0L0.63,-1.95M0,0L-1.66,-1.2M0,0L-1.66,1.2M0,0L0.63,1.95" class="st"/>
<path d="M112.54,521V481.38H119.94V521" stroke="#ff3838" class="br"/>
<circle cx="113.54" cy="481.06" r="1.45" stroke="#ff3838" class="dt"/>
<circle cx="116.24" cy="480.3" r="1.45" stroke="#ff3838" class="dt"/>
<circle cx="118.94" cy="480.84" r="1.45" stroke="#ff3838" class="dt"/>
<path transform="translate(116.44,470.7)" d="M0,0L2.05,-0M0,0L0.63,-1.95M0,0L-1.66,-1.2M0,0L-1.66,1.2M0,0L0.63,1.95" class="st"/>
<path transform="translate(116.44,465.35)" d="M0,0L2.05,-0M0,0L0.63,-1.95M0,0L-1.66,-1.2M0,0L-1.66,1.2M0,0L0.63,1.95" class="st"/>
<path transform="translate(116.44,460)" d="M0,0L2.05,-0M0,0L0.63,-1.95M0,0L-1.66,-1.2M0,0L-1.66,1.2M0,0L0.63,1.95" class="st"/>
<text x="143.4" y="446.9" class="lt">N</text>
<text x="170.9" y="448.5" class="tt">NCBP1</text>
<path d="M163.5,448.9V519.8H266" class="ax"/>
<text x="158.6" y="522.1" class="tl">0</text>
<text x="158.6" y="500.2" class="tl">2</text>
<text x="158.6" y="478.3" class="tl">4</text>
<text x="158.6" y="456.4" class="tl">6</text>
<path d="M160.2,519.8H163.5M160.2,497.9H163.5M160.2,476H163.5M160.2,454.1H163.5M171.5,519.8V523.8M183.82,519.8V523.8M196.14,519.8V523.8M208.46,519.8V523.8M220.78,519.8V523.8M233.1,519.8V523.8M245.42,519.8V523.8M257.74,519.8V523.8" class="ax"/>
<text transform="translate(149.5,483.8) rotate(-90)" class="yl">Relative mRNA level</text>
<text transform="translate(173.1,528.1) rotate(-45)" class="xl">HIEC-6</text>
<text transform="translate(185.42,528.1) rotate(-45)" class="xl">SW48</text>
<text transform="translate(197.74,528.1) rotate(-45)" class="xl">WiDr</text>
<text transform="translate(210.06,528.1) rotate(-45)" class="xl">HCT116</text>
<text transform="translate(222.38,528.1) rotate(-45)" class="xl">RKO</text>
<text transform="translate(234.7,528.1) rotate(-45)" class="xl">HCT8</text>
<text transform="translate(247.02,528.1) rotate(-45)" class="xl">HCT15</text>
<text transform="translate(259.34,528.1) rotate(-45)" class="xl">DLD1</text>
<path d="M167.8,519.8V509.62H175.2V519.8" stroke="#1e1e1e" class="br"/>
<circle cx="168.8" cy="509.29" r="1.45" stroke="#1e1e1e" class="dt"/>
<circle cx="171.5" cy="508.52" r="1.45" stroke="#1e1e1e" class="dt"/>
<circle cx="174.2" cy="509.07" r="1.45" stroke="#1e1e1e" class="dt"/>
<path d="M180.12,519.8V502.94H187.52V519.8" stroke="#a8a636" class="br"/>
<circle cx="181.12" cy="502.61" r="1.45" stroke="#a8a636" class="dt"/>
<circle cx="183.82" cy="501.84" r="1.45" stroke="#a8a636" class="dt"/>
<circle cx="186.52" cy="502.39" r="1.45" stroke="#a8a636" class="dt"/>
<path transform="translate(184.02,492)" d="M0,0L2.05,-0M0,0L0.63,-1.95M0,0L-1.66,-1.2M0,0L-1.66,1.2M0,0L0.63,1.95" class="st"/>
<path transform="translate(184.02,486.65)" d="M0,0L2.05,-0M0,0L0.63,-1.95M0,0L-1.66,-1.2M0,0L-1.66,1.2M0,0L0.63,1.95" class="st"/>
<path transform="translate(184.02,481.3)" d="M0,0L2.05,-0M0,0L0.63,-1.95M0,0L-1.66,-1.2M0,0L-1.66,1.2M0,0L0.63,1.95" class="st"/>
<path d="M192.44,519.8V503.59H199.84V519.8" stroke="#2fa02f" class="br"/>
<circle cx="193.44" cy="503.27" r="1.45" stroke="#2fa02f" class="dt"/>
<circle cx="196.14" cy="502.5" r="1.45" stroke="#2fa02f" class="dt"/>
<circle cx="198.84" cy="503.05" r="1.45" stroke="#2fa02f" class="dt"/>
<path transform="translate(196.34,492.7)" d="M0,0L2.05,-0M0,0L0.63,-1.95M0,0L-1.66,-1.2M0,0L-1.66,1.2M0,0L0.63,1.95" class="st"/>
<path transform="translate(196.34,487.35)" d="M0,0L2.05,-0M0,0L0.63,-1.95M0,0L-1.66,-1.2M0,0L-1.66,1.2M0,0L0.63,1.95" class="st"/>
<path transform="translate(196.34,482)" d="M0,0L2.05,-0M0,0L0.63,-1.95M0,0L-1.66,-1.2M0,0L-1.66,1.2M0,0L0.63,1.95" class="st"/>
<path d="M204.76,519.8V496.37H212.16V519.8" stroke="#bd6a30" class="br"/>
<circle cx="205.76" cy="496.04" r="1.45" stroke="#bd6a30" class="dt"/>
<circle cx="208.46" cy="495.27" r="1.45" stroke="#bd6a30" class="dt"/>
<circle cx="211.16" cy="495.82" r="1.45" stroke="#bd6a30" class="dt"/>
<path transform="translate(208.66,486.5)" d="M0,0L2.05,-0M0,0L0.63,-1.95M0,0L-1.66,-1.2M0,0L-1.66,1.2M0,0L0.63,1.95" class="st"/>
<path transform="translate(208.66,481.15)" d="M0,0L2.05,-0M0,0L0.63,-1.95M0,0L-1.66,-1.2M0,0L-1.66,1.2M0,0L0.63,1.95" class="st"/>
<path transform="translate(208.66,475.8)" d="M0,0L2.05,-0M0,0L0.63,-1.95M0,0L-1.66,-1.2M0,0L-1.66,1.2M0,0L0.63,1.95" class="st"/>
<path d="M217.08,519.8V499.54H224.48V519.8" stroke="#b43cf0" class="br"/>
<path d="M220.78,499.54V495.71M218.98,495.71H222.58" stroke="#b43cf0" class="eb"/>
<circle cx="220.78" cy="495.71" r="1.45" stroke="#b43cf0" class="dt"/>
<circle cx="218.78" cy="499.21" r="1.45" stroke="#b43cf0" class="dt"/>
<circle cx="222.78" cy="499.21" r="1.45" stroke="#b43cf0" class="dt"/>
<circle cx="220.78" cy="498.67" r="1.45" stroke="#b43cf0" class="dt"/>
<path transform="translate(220.98,487.9)" d="M0,0L2.05,-0M0,0L0.63,-1.95M0,0L-1.66,-1.2M0,0L-1.66,1.2M0,0L0.63,1.95" class="st"/>
<path transform="translate(220.98,482.55)" d="M0,0L2.05,-0M0,0L0.63,-1.95M0,0L-1.66,-1.2M0,0L-1.66,1.2M0,0L0.63,1.95" class="st"/>
<path transform="translate(220.98,477.2)" d="M0,0L2.05,-0M0,0L0.63,-1.95M0,0L-1.66,-1.2M0,0L-1.66,1.2M0,0L0.63,1.95" class="st"/>
<path d="M229.4,519.8V498.67H236.8V519.8" stroke="#2f2ff2" class="br"/>
<path d="M233.1,501.62V496.26M231.3,496.26H234.9M231.3,501.62H234.9" stroke="#2f2ff2" class="eb"/>
<circle cx="233.1" cy="496.26" r="1.45" stroke="#2f2ff2" class="dt"/>
<circle cx="233.1" cy="501.62" r="1.45" stroke="#2f2ff2" class="dt"/>
<circle cx="231.5" cy="498.12" r="1.45" stroke="#2f2ff2" class="dt"/>
<circle cx="234.7" cy="498.12" r="1.45" stroke="#2f2ff2" class="dt"/>
<path transform="translate(233.3,488.8)" d="M0,0L2.05,-0M0,0L0.63,-1.95M0,0L-1.66,-1.2M0,0L-1.66,1.2M0,0L0.63,1.95" class="st"/>
<path transform="translate(233.3,483.45)" d="M0,0L2.05,-0M0,0L0.63,-1.95M0,0L-1.66,-1.2M0,0L-1.66,1.2M0,0L0.63,1.95" class="st"/>
<path transform="translate(233.3,478.1)" d="M0,0L2.05,-0M0,0L0.63,-1.95M0,0L-1.66,-1.2M0,0L-1.66,1.2M0,0L0.63,1.95" class="st"/>
<path d="M241.72,519.8V506.33H249.12V519.8" stroke="#ff9a35" class="br"/>
<circle cx="242.72" cy="506" r="1.45" stroke="#ff9a35" class="dt"/>
<circle cx="245.42" cy="505.24" r="1.45" stroke="#ff9a35" class="dt"/>
<circle cx="248.12" cy="505.78" r="1.45" stroke="#ff9a35" class="dt"/>
<text x="245.42" y="498.4" class="ns">ns</text>
<path d="M254.04,519.8V496.15H261.44V519.8" stroke="#ff3838" class="br"/>
<circle cx="255.04" cy="495.82" r="1.45" stroke="#ff3838" class="dt"/>
<circle cx="257.74" cy="495.05" r="1.45" stroke="#ff3838" class="dt"/>
<circle cx="260.44" cy="495.6" r="1.45" stroke="#ff3838" class="dt"/>
<path transform="translate(257.94,487.2)" d="M0,0L2.05,-0M0,0L0.63,-1.95M0,0L-1.66,-1.2M0,0L-1.66,1.2M0,0L0.63,1.95" class="st"/>
<path transform="translate(257.94,481.85)" d="M0,0L2.05,-0M0,0L0.63,-1.95M0,0L-1.66,-1.2M0,0L-1.66,1.2M0,0L0.63,1.95" class="st"/>
<path transform="translate(257.94,476.5)" d="M0,0L2.05,-0M0,0L0.63,-1.95M0,0L-1.66,-1.2M0,0L-1.66,1.2M0,0L0.63,1.95" class="st"/>
<text x="276.5" y="446.9" class="lt">O</text>
<text x="302.8" y="450" class="tt">WDR4</text>
<path d="M294.8,448.9V519.9H397.3" class="ax"/>
<text x="289.9" y="522.2" class="tl">0</text>
<text x="289.9" y="500.27" class="tl">2</text>
<text x="289.9" y="478.33" class="tl">4</text>
<text x="289.9" y="456.4" class="tl">6</text>
<path d="M291.5,519.9H294.8M291.5,497.97H294.8M291.5,476.03H294.8M291.5,454.1H294.8M302.8,519.9V523.9M315.12,519.9V523.9M327.44,519.9V523.9M339.76,519.9V523.9M352.08,519.9V523.9M364.4,519.9V523.9M376.72,519.9V523.9M389.04,519.9V523.9" class="ax"/>
<text transform="translate(280.8,483.9) rotate(-90)" class="yl">Relative mRNA level</text>
<text transform="translate(304.4,528.2) rotate(-45)" class="xl">HIEC-6</text>
<text transform="translate(316.72,528.2) rotate(-45)" class="xl">SW48</text>
<text transform="translate(329.04,528.2) rotate(-45)" class="xl">WiDr</text>
<text transform="translate(341.36,528.2) rotate(-45)" class="xl">HCT116</text>
<text transform="translate(353.68,528.2) rotate(-45)" class="xl">RKO</text>
<text transform="translate(366,528.2) rotate(-45)" class="xl">HCT8</text>
<text transform="translate(378.32,528.2) rotate(-45)" class="xl">HCT15</text>
<text transform="translate(390.64,528.2) rotate(-45)" class="xl">DLD1</text>
<path d="M299.1,519.9V509.7H306.5V519.9" stroke="#1e1e1e" class="br"/>
<circle cx="300.1" cy="509.37" r="1.45" stroke="#1e1e1e" class="dt"/>
<circle cx="302.8" cy="508.6" r="1.45" stroke="#1e1e1e" class="dt"/>
<circle cx="305.5" cy="509.15" r="1.45" stroke="#1e1e1e" class="dt"/>
<path d="M311.42,519.9V499.28H318.82V519.9" stroke="#a8a636" class="br"/>
<path d="M315.12,502.24V496.76M313.32,496.76H316.92M313.32,502.24H316.92" stroke="#a8a636" class="eb"/>
<circle cx="315.12" cy="496.76" r="1.45" stroke="#a8a636" class="dt"/>
<circle cx="315.12" cy="502.24" r="1.45" stroke="#a8a636" class="dt"/>
<circle cx="313.52" cy="498.73" r="1.45" stroke="#a8a636" class="dt"/>
<circle cx="316.72" cy="498.73" r="1.45" stroke="#a8a636" class="dt"/>
<path transform="translate(315.32,490.6)" d="M0,0L2.05,-0M0,0L0.63,-1.95M0,0L-1.66,-1.2M0,0L-1.66,1.2M0,0L0.63,1.95" class="st"/>
<path transform="translate(315.32,485.25)" d="M0,0L2.05,-0M0,0L0.63,-1.95M0,0L-1.66,-1.2M0,0L-1.66,1.2M0,0L0.63,1.95" class="st"/>
<path transform="translate(315.32,479.9)" d="M0,0L2.05,-0M0,0L0.63,-1.95M0,0L-1.66,-1.2M0,0L-1.66,1.2M0,0L0.63,1.95" class="st"/>
<path d="M323.74,519.9V507.73H331.14V519.9" stroke="#2fa02f" class="br"/>
<circle cx="324.74" cy="507.4" r="1.45" stroke="#2fa02f" class="dt"/>
<circle cx="327.44" cy="506.63" r="1.45" stroke="#2fa02f" class="dt"/>
<circle cx="330.14" cy="507.18" r="1.45" stroke="#2fa02f" class="dt"/>
<text x="327.44" y="500.8" class="ns">ns</text>
<path d="M336.06,519.9V498.19H343.46V519.9" stroke="#bd6a30" class="br"/>
<path d="M339.76,503.45V498.19M337.96,503.45H341.56" stroke="#bd6a30" class="eb"/>
<circle cx="339.76" cy="503.45" r="1.45" stroke="#bd6a30" class="dt"/>
<circle cx="337.76" cy="497.64" r="1.45" stroke="#bd6a30" class="dt"/>
<circle cx="341.76" cy="497.64" r="1.45" stroke="#bd6a30" class="dt"/>
<circle cx="339.76" cy="497.09" r="1.45" stroke="#bd6a30" class="dt"/>
<path transform="translate(339.96,491)" d="M0,0L2.05,-0M0,0L0.63,-1.95M0,0L-1.66,-1.2M0,0L-1.66,1.2M0,0L0.63,1.95" class="st"/>
<path transform="translate(339.96,485.65)" d="M0,0L2.05,-0M0,0L0.63,-1.95M0,0L-1.66,-1.2M0,0L-1.66,1.2M0,0L0.63,1.95" class="st"/>
<path transform="translate(339.96,480.3)" d="M0,0L2.05,-0M0,0L0.63,-1.95M0,0L-1.66,-1.2M0,0L-1.66,1.2M0,0L0.63,1.95" class="st"/>
<path d="M348.38,519.9V507.07H355.78V519.9" stroke="#b43cf0" class="br"/>
<circle cx="349.38" cy="506.74" r="1.45" stroke="#b43cf0" class="dt"/>
<circle cx="352.08" cy="505.97" r="1.45" stroke="#b43cf0" class="dt"/>
<circle cx="354.78" cy="506.52" r="1.45" stroke="#b43cf0" class="dt"/>
<text x="352.08" y="499.5" class="ns">ns</text>
<path d="M360.7,519.9V496.87H368.1V519.9" stroke="#2f2ff2" class="br"/>
<circle cx="361.7" cy="496.54" r="1.45" stroke="#2f2ff2" class="dt"/>
<circle cx="364.4" cy="495.77" r="1.45" stroke="#2f2ff2" class="dt"/>
<circle cx="367.1" cy="496.32" r="1.45" stroke="#2f2ff2" class="dt"/>
<path transform="translate(364.6,487.4)" d="M0,0L2.05,-0M0,0L0.63,-1.95M0,0L-1.66,-1.2M0,0L-1.66,1.2M0,0L0.63,1.95" class="st"/>
<path transform="translate(364.6,482.05)" d="M0,0L2.05,-0M0,0L0.63,-1.95M0,0L-1.66,-1.2M0,0L-1.66,1.2M0,0L0.63,1.95" class="st"/>
<path transform="translate(364.6,476.7)" d="M0,0L2.05,-0M0,0L0.63,-1.95M0,0L-1.66,-1.2M0,0L-1.66,1.2M0,0L0.63,1.95" class="st"/>
<path d="M373.02,519.9V500.16H380.42V519.9" stroke="#ff9a35" class="br"/>
<circle cx="374.02" cy="499.83" r="1.45" stroke="#ff9a35" class="dt"/>
<circle cx="376.72" cy="499.06" r="1.45" stroke="#ff9a35" class="dt"/>
<circle cx="379.42" cy="499.61" r="1.45" stroke="#ff9a35" class="dt"/>
<path transform="translate(376.92,488.7)" d="M0,0L2.05,-0M0,0L0.63,-1.95M0,0L-1.66,-1.2M0,0L-1.66,1.2M0,0L0.63,1.95" class="st"/>
<path transform="translate(376.92,483.35)" d="M0,0L2.05,-0M0,0L0.63,-1.95M0,0L-1.66,-1.2M0,0L-1.66,1.2M0,0L0.63,1.95" class="st"/>
<path transform="translate(376.92,478)" d="M0,0L2.05,-0M0,0L0.63,-1.95M0,0L-1.66,-1.2M0,0L-1.66,1.2M0,0L0.63,1.95" class="st"/>
<path d="M385.34,519.9V494.9H392.74V519.9" stroke="#ff3838" class="br"/>
<circle cx="386.34" cy="494.57" r="1.45" stroke="#ff3838" class="dt"/>
<circle cx="389.04" cy="493.8" r="1.45" stroke="#ff3838" class="dt"/>
<circle cx="391.74" cy="494.35" r="1.45" stroke="#ff3838" class="dt"/>
<path transform="translate(389.24,485.1)" d="M0,0L2.05,-0M0,0L0.63,-1.95M0,0L-1.66,-1.2M0,0L-1.66,1.2M0,0L0.63,1.95" class="st"/>
<path transform="translate(389.24,479.75)" d="M0,0L2.05,-0M0,0L0.63,-1.95M0,0L-1.66,-1.2M0,0L-1.66,1.2M0,0L0.63,1.95" class="st"/>
<path transform="translate(389.24,474.4)" d="M0,0L2.05,-0M0,0L0.63,-1.95M0,0L-1.66,-1.2M0,0L-1.66,1.2M0,0L0.63,1.95" class="st"/>
</svg>
</body></html>
